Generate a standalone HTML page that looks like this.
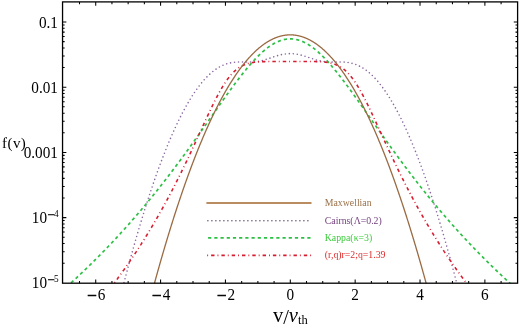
<!DOCTYPE html>
<html><head><meta charset="utf-8"><style>
html,body{margin:0;padding:0;background:#fff;}
body{width:520px;height:327px;overflow:hidden;}
svg{display:block;}
text{font-family:"Liberation Serif","DejaVu Serif",serif;}
</style></head><body>
<svg width="520" height="327" viewBox="0 0 520 327">
<defs><clipPath id="c"><rect x="62.55" y="1.90" width="455.05" height="281.30"/></clipPath></defs>

<g clip-path="url(#c)" fill="none" stroke-width="1.50">
<path d="M122.36,289.02 L122.69,287.76 L123.01,286.50 L123.34,285.24 L123.66,283.99 L123.99,282.74 L124.31,281.49 L124.63,280.24 L124.96,279.00 L125.28,277.76 L125.61,276.53 L125.93,275.30 L126.26,274.07 L126.58,272.85 L126.91,271.63 L127.23,270.41 L127.56,269.19 L127.88,267.98 L128.20,266.77 L128.53,265.57 L128.85,264.37 L129.18,263.17 L129.50,261.98 L129.83,260.78 L130.15,259.60 L130.48,258.41 L130.80,257.23 L131.12,256.05 L131.45,254.88 L131.77,253.71 L132.10,252.54 L132.42,251.37 L132.75,250.21 L133.07,249.05 L133.40,247.90 L133.72,246.75 L134.05,245.60 L134.37,244.45 L134.69,243.31 L135.02,242.17 L135.34,241.04 L135.67,239.91 L135.99,238.78 L136.32,237.65 L136.64,236.53 L136.97,235.41 L137.29,234.30 L137.62,233.19 L137.94,232.08 L138.26,230.98 L138.59,229.87 L138.91,228.78 L139.24,227.68 L139.56,226.59 L139.89,225.50 L140.21,224.42 L140.54,223.34 L140.86,222.26 L141.18,221.19 L141.51,220.11 L141.83,219.05 L142.16,217.98 L142.48,216.92 L142.81,215.86 L143.13,214.81 L143.46,213.76 L143.78,212.71 L144.11,211.67 L144.43,210.63 L144.75,209.59 L145.08,208.56 L145.40,207.53 L145.73,206.50 L146.05,205.48 L146.38,204.46 L146.70,203.44 L147.03,202.43 L147.35,201.42 L147.68,200.41 L148.00,199.41 L148.32,198.41 L148.65,197.41 L148.97,196.42 L149.30,195.43 L149.62,194.45 L149.95,193.46 L150.27,192.48 L150.60,191.51 L150.92,190.54 L151.24,189.57 L151.57,188.60 L151.89,187.64 L152.22,186.68 L152.54,185.73 L152.87,184.78 L153.19,183.83 L153.52,182.88 L153.84,181.94 L154.17,181.01 L154.49,180.07 L154.81,179.14 L155.14,178.22 L155.46,177.29 L155.79,176.37 L156.11,175.46 L156.44,174.54 L156.76,173.63 L157.09,172.73 L157.41,171.82 L157.74,170.92 L158.06,170.03 L158.38,169.14 L158.71,168.25 L159.03,167.36 L159.36,166.48 L159.68,165.60 L160.01,164.73 L160.33,163.86 L160.66,162.99 L160.98,162.13 L161.30,161.27 L161.63,160.41 L161.95,159.56 L162.28,158.71 L162.60,157.86 L162.93,157.02 L163.25,156.18 L163.58,155.34 L163.90,154.51 L164.23,153.68 L164.55,152.86 L164.87,152.03 L165.20,151.22 L165.52,150.40 L165.85,149.59 L166.17,148.78 L166.50,147.98 L166.82,147.18 L167.15,146.38 L167.47,145.59 L167.80,144.80 L168.12,144.02 L168.44,143.23 L168.77,142.46 L169.09,141.68 L169.42,140.91 L169.74,140.14 L170.07,139.38 L170.39,138.62 L170.72,137.86 L171.04,137.11 L171.36,136.36 L171.69,135.61 L172.01,134.87 L172.34,134.13 L172.66,133.40 L172.99,132.66 L173.31,131.94 L173.64,131.21 L173.96,130.49 L174.29,129.77 L174.61,129.06 L174.93,128.35 L175.26,127.65 L175.58,126.94 L175.91,126.24 L176.23,125.55 L176.56,124.86 L176.88,124.17 L177.21,123.49 L177.53,122.81 L177.86,122.13 L178.18,121.46 L178.50,120.79 L178.83,120.12 L179.15,119.46 L179.48,118.80 L179.80,118.15 L180.13,117.50 L180.45,116.85 L180.78,116.21 L181.10,115.57 L181.42,114.93 L181.75,114.30 L182.07,113.67 L182.40,113.05 L182.72,112.43 L183.05,111.81 L183.37,111.20 L183.70,110.59 L184.02,109.98 L184.35,109.38 L184.67,108.78 L184.99,108.19 L185.32,107.59 L185.64,107.01 L185.97,106.42 L186.29,105.84 L186.62,105.27 L186.94,104.70 L187.27,104.13 L187.59,103.56 L187.92,103.00 L188.24,102.45 L188.56,101.89 L188.89,101.35 L189.21,100.80 L189.54,100.26 L189.86,99.72 L190.19,99.19 L190.51,98.66 L190.84,98.13 L191.16,97.61 L191.48,97.09 L191.81,96.58 L192.13,96.06 L192.46,95.56 L192.78,95.05 L193.11,94.55 L193.43,94.06 L193.76,93.57 L194.08,93.08 L194.41,92.60 L194.73,92.12 L195.05,91.64 L195.38,91.17 L195.70,90.70 L196.03,90.23 L196.35,89.77 L196.68,89.32 L197.00,88.86 L197.33,88.42 L197.65,87.97 L197.98,87.53 L198.30,87.09 L198.62,86.66 L198.95,86.23 L199.27,85.80 L199.60,85.38 L199.92,84.96 L200.25,84.55 L200.57,84.14 L200.90,83.73 L201.22,83.33 L201.54,82.93 L201.87,82.54 L202.19,82.15 L202.52,81.76 L202.84,81.38 L203.17,81.00 L203.49,80.63 L203.82,80.26 L204.14,79.89 L204.47,79.53 L204.79,79.17 L205.11,78.81 L205.44,78.46 L205.76,78.11 L206.09,77.77 L206.41,77.43 L206.74,77.10 L207.06,76.77 L207.39,76.44 L207.71,76.11 L208.04,75.79 L208.36,75.48 L208.68,75.17 L209.01,74.86 L209.33,74.56 L209.66,74.26 L209.98,73.96 L210.31,73.67 L210.63,73.38 L210.96,73.10 L211.28,72.81 L211.60,72.54 L211.93,72.27 L212.25,72.00 L212.58,71.73 L212.90,71.47 L213.23,71.22 L213.55,70.96 L213.88,70.71 L214.20,70.47 L214.53,70.23 L214.85,69.99 L215.17,69.76 L215.50,69.53 L215.82,69.30 L216.15,69.08 L216.47,68.86 L216.80,68.64 L217.12,68.43 L217.45,68.23 L217.77,68.02 L218.10,67.83 L218.42,67.63 L218.74,67.44 L219.07,67.25 L219.39,67.07 L219.72,66.89 L220.04,66.71 L220.37,66.54 L220.69,66.37 L221.02,66.20 L221.34,66.04 L221.66,65.88 L221.99,65.73 L222.31,65.58 L222.64,65.43 L222.96,65.28 L223.29,65.14 L223.61,65.01 L223.94,64.87 L224.26,64.74 L224.59,64.62 L224.91,64.49 L225.23,64.37 L225.56,64.26 L225.88,64.15 L226.21,64.04 L226.53,63.93 L226.86,63.83 L227.18,63.73 L227.51,63.63 L227.83,63.54 L228.16,63.45 L228.48,63.36 L228.80,63.28 L229.13,63.20 L229.45,63.12 L229.78,63.05 L230.10,62.98 L230.43,62.91 L230.75,62.84 L231.08,62.78 L231.40,62.72 L231.72,62.66 L232.05,62.61 L232.37,62.56 L232.70,62.51 L233.02,62.46 L233.35,62.42 L233.67,62.37 L234.00,62.33 L234.32,62.30 L234.65,62.26 L234.97,62.23 L235.29,62.20 L235.62,62.17 L235.94,62.15 L236.27,62.12 L236.59,62.10 L236.92,62.08 L237.24,62.06 L237.57,62.05 L237.89,62.03 L238.22,62.02 L238.54,62.01 L238.86,62.00 L239.19,61.99 L239.51,61.98 L239.84,61.98 L240.16,61.97 L240.49,61.97 L240.81,61.97 L241.14,61.97 L241.46,61.97 L241.78,61.97 L242.11,61.97 L242.43,61.97 L242.76,61.97 L243.08,61.98 L243.41,61.98 L243.73,61.98 L244.06,61.99 L244.38,61.99 L244.71,62.00 L245.03,62.00 L245.35,62.00 L245.68,62.01 L246.00,62.01 L246.33,62.02 L246.65,62.02 L246.98,62.02 L247.30,62.03 L247.63,62.03 L247.95,62.03 L248.28,62.03 L248.60,62.03 L248.92,62.03 L249.25,62.02 L249.57,62.02 L249.90,62.01 L250.22,62.01 L250.55,62.00 L250.87,61.99 L251.20,61.98 L251.52,61.97 L251.84,61.96 L252.17,61.94 L252.49,61.93 L252.82,61.91 L253.14,61.89 L253.47,61.86 L253.79,61.84 L254.12,61.81 L254.44,61.79 L254.77,61.76 L255.09,61.73 L255.41,61.69 L255.74,61.65 L256.06,61.62 L256.39,61.58 L256.71,61.53 L257.04,61.49 L257.36,61.44 L257.69,61.39 L258.01,61.34 L258.34,61.29 L258.66,61.23 L258.98,61.17 L259.31,61.11 L259.63,61.05 L259.96,60.98 L260.28,60.92 L260.61,60.85 L260.93,60.78 L261.26,60.70 L261.58,60.63 L261.90,60.55 L262.23,60.47 L262.55,60.39 L262.88,60.31 L263.20,60.22 L263.53,60.13 L263.85,60.04 L264.18,59.95 L264.50,59.86 L264.83,59.77 L265.15,59.67 L265.47,59.58 L265.80,59.48 L266.12,59.38 L266.45,59.28 L266.77,59.18 L267.10,59.07 L267.42,58.97 L267.75,58.86 L268.07,58.76 L268.40,58.65 L268.72,58.55 L269.04,58.44 L269.37,58.33 L269.69,58.22 L270.02,58.11 L270.34,58.00 L270.67,57.89 L270.99,57.78 L271.32,57.67 L271.64,57.56 L271.96,57.45 L272.29,57.34 L272.61,57.23 L272.94,57.12 L273.26,57.01 L273.59,56.91 L273.91,56.80 L274.24,56.69 L274.56,56.59 L274.89,56.48 L275.21,56.38 L275.53,56.27 L275.86,56.17 L276.18,56.07 L276.51,55.97 L276.83,55.87 L277.16,55.77 L277.48,55.68 L277.81,55.58 L278.13,55.49 L278.46,55.40 L278.78,55.31 L279.10,55.22 L279.43,55.14 L279.75,55.05 L280.08,54.97 L280.40,54.89 L280.73,54.81 L281.05,54.74 L281.38,54.66 L281.70,54.59 L282.02,54.52 L282.35,54.46 L282.67,54.39 L283.00,54.33 L283.32,54.27 L283.65,54.21 L283.97,54.16 L284.30,54.10 L284.62,54.05 L284.95,54.01 L285.27,53.96 L285.59,53.92 L285.92,53.88 L286.24,53.84 L286.57,53.81 L286.89,53.78 L287.22,53.75 L287.54,53.73 L287.87,53.70 L288.19,53.68 L288.52,53.67 L288.84,53.65 L289.16,53.64 L289.49,53.63 L289.81,53.63 L290.14,53.62 L290.46,53.62 L290.79,53.63 L291.11,53.63 L291.44,53.64 L291.76,53.65 L292.08,53.67 L292.41,53.68 L292.73,53.70 L293.06,53.73 L293.38,53.75 L293.71,53.78 L294.03,53.81 L294.36,53.84 L294.68,53.88 L295.01,53.92 L295.33,53.96 L295.65,54.01 L295.98,54.05 L296.30,54.10 L296.63,54.16 L296.95,54.21 L297.28,54.27 L297.60,54.33 L297.93,54.39 L298.25,54.46 L298.58,54.52 L298.90,54.59 L299.22,54.66 L299.55,54.74 L299.87,54.81 L300.20,54.89 L300.52,54.97 L300.85,55.05 L301.17,55.14 L301.50,55.22 L301.82,55.31 L302.14,55.40 L302.47,55.49 L302.79,55.58 L303.12,55.68 L303.44,55.77 L303.77,55.87 L304.09,55.97 L304.42,56.07 L304.74,56.17 L305.07,56.27 L305.39,56.38 L305.71,56.48 L306.04,56.59 L306.36,56.69 L306.69,56.80 L307.01,56.91 L307.34,57.01 L307.66,57.12 L307.99,57.23 L308.31,57.34 L308.64,57.45 L308.96,57.56 L309.28,57.67 L309.61,57.78 L309.93,57.89 L310.26,58.00 L310.58,58.11 L310.91,58.22 L311.23,58.33 L311.56,58.44 L311.88,58.55 L312.20,58.65 L312.53,58.76 L312.85,58.86 L313.18,58.97 L313.50,59.07 L313.83,59.18 L314.15,59.28 L314.48,59.38 L314.80,59.48 L315.13,59.58 L315.45,59.67 L315.77,59.77 L316.10,59.86 L316.42,59.95 L316.75,60.04 L317.07,60.13 L317.40,60.22 L317.72,60.31 L318.05,60.39 L318.37,60.47 L318.70,60.55 L319.02,60.63 L319.34,60.70 L319.67,60.78 L319.99,60.85 L320.32,60.92 L320.64,60.98 L320.97,61.05 L321.29,61.11 L321.62,61.17 L321.94,61.23 L322.26,61.29 L322.59,61.34 L322.91,61.39 L323.24,61.44 L323.56,61.49 L323.89,61.53 L324.21,61.58 L324.54,61.62 L324.86,61.65 L325.19,61.69 L325.51,61.73 L325.83,61.76 L326.16,61.79 L326.48,61.81 L326.81,61.84 L327.13,61.86 L327.46,61.89 L327.78,61.91 L328.11,61.93 L328.43,61.94 L328.76,61.96 L329.08,61.97 L329.40,61.98 L329.73,61.99 L330.05,62.00 L330.38,62.01 L330.70,62.01 L331.03,62.02 L331.35,62.02 L331.68,62.03 L332.00,62.03 L332.32,62.03 L332.65,62.03 L332.97,62.03 L333.30,62.03 L333.62,62.02 L333.95,62.02 L334.27,62.02 L334.60,62.01 L334.92,62.01 L335.25,62.00 L335.57,62.00 L335.89,62.00 L336.22,61.99 L336.54,61.99 L336.87,61.98 L337.19,61.98 L337.52,61.98 L337.84,61.97 L338.17,61.97 L338.49,61.97 L338.82,61.97 L339.14,61.97 L339.46,61.97 L339.79,61.97 L340.11,61.97 L340.44,61.97 L340.76,61.98 L341.09,61.98 L341.41,61.99 L341.74,62.00 L342.06,62.01 L342.38,62.02 L342.71,62.03 L343.03,62.05 L343.36,62.06 L343.68,62.08 L344.01,62.10 L344.33,62.12 L344.66,62.15 L344.98,62.17 L345.31,62.20 L345.63,62.23 L345.95,62.26 L346.28,62.30 L346.60,62.33 L346.93,62.37 L347.25,62.42 L347.58,62.46 L347.90,62.51 L348.23,62.56 L348.55,62.61 L348.88,62.66 L349.20,62.72 L349.52,62.78 L349.85,62.84 L350.17,62.91 L350.50,62.98 L350.82,63.05 L351.15,63.12 L351.47,63.20 L351.80,63.28 L352.12,63.36 L352.44,63.45 L352.77,63.54 L353.09,63.63 L353.42,63.73 L353.74,63.83 L354.07,63.93 L354.39,64.04 L354.72,64.15 L355.04,64.26 L355.37,64.37 L355.69,64.49 L356.01,64.62 L356.34,64.74 L356.66,64.87 L356.99,65.01 L357.31,65.14 L357.64,65.28 L357.96,65.43 L358.29,65.58 L358.61,65.73 L358.94,65.88 L359.26,66.04 L359.58,66.20 L359.91,66.37 L360.23,66.54 L360.56,66.71 L360.88,66.89 L361.21,67.07 L361.53,67.25 L361.86,67.44 L362.18,67.63 L362.50,67.83 L362.83,68.02 L363.15,68.23 L363.48,68.43 L363.80,68.64 L364.13,68.86 L364.45,69.08 L364.78,69.30 L365.10,69.53 L365.43,69.76 L365.75,69.99 L366.07,70.23 L366.40,70.47 L366.72,70.71 L367.05,70.96 L367.37,71.22 L367.70,71.47 L368.02,71.73 L368.35,72.00 L368.67,72.27 L369.00,72.54 L369.32,72.81 L369.64,73.10 L369.97,73.38 L370.29,73.67 L370.62,73.96 L370.94,74.26 L371.27,74.56 L371.59,74.86 L371.92,75.17 L372.24,75.48 L372.56,75.79 L372.89,76.11 L373.21,76.44 L373.54,76.77 L373.86,77.10 L374.19,77.43 L374.51,77.77 L374.84,78.11 L375.16,78.46 L375.49,78.81 L375.81,79.17 L376.13,79.53 L376.46,79.89 L376.78,80.26 L377.11,80.63 L377.43,81.00 L377.76,81.38 L378.08,81.76 L378.41,82.15 L378.73,82.54 L379.06,82.93 L379.38,83.33 L379.70,83.73 L380.03,84.14 L380.35,84.55 L380.68,84.96 L381.00,85.38 L381.33,85.80 L381.65,86.23 L381.98,86.66 L382.30,87.09 L382.62,87.53 L382.95,87.97 L383.27,88.42 L383.60,88.86 L383.92,89.32 L384.25,89.77 L384.57,90.23 L384.90,90.70 L385.22,91.17 L385.55,91.64 L385.87,92.12 L386.19,92.60 L386.52,93.08 L386.84,93.57 L387.17,94.06 L387.49,94.55 L387.82,95.05 L388.14,95.56 L388.47,96.06 L388.79,96.58 L389.12,97.09 L389.44,97.61 L389.76,98.13 L390.09,98.66 L390.41,99.19 L390.74,99.72 L391.06,100.26 L391.39,100.80 L391.71,101.35 L392.04,101.89 L392.36,102.45 L392.68,103.00 L393.01,103.56 L393.33,104.13 L393.66,104.70 L393.98,105.27 L394.31,105.84 L394.63,106.42 L394.96,107.01 L395.28,107.59 L395.61,108.19 L395.93,108.78 L396.25,109.38 L396.58,109.98 L396.90,110.59 L397.23,111.20 L397.55,111.81 L397.88,112.43 L398.20,113.05 L398.53,113.67 L398.85,114.30 L399.18,114.93 L399.50,115.57 L399.82,116.21 L400.15,116.85 L400.47,117.50 L400.80,118.15 L401.12,118.80 L401.45,119.46 L401.77,120.12 L402.10,120.79 L402.42,121.46 L402.74,122.13 L403.07,122.81 L403.39,123.49 L403.72,124.17 L404.04,124.86 L404.37,125.55 L404.69,126.24 L405.02,126.94 L405.34,127.65 L405.67,128.35 L405.99,129.06 L406.31,129.77 L406.64,130.49 L406.96,131.21 L407.29,131.94 L407.61,132.66 L407.94,133.40 L408.26,134.13 L408.59,134.87 L408.91,135.61 L409.24,136.36 L409.56,137.11 L409.88,137.86 L410.21,138.62 L410.53,139.38 L410.86,140.14 L411.18,140.91 L411.51,141.68 L411.83,142.46 L412.16,143.23 L412.48,144.02 L412.80,144.80 L413.13,145.59 L413.45,146.38 L413.78,147.18 L414.10,147.98 L414.43,148.78 L414.75,149.59 L415.08,150.40 L415.40,151.22 L415.73,152.03 L416.05,152.86 L416.37,153.68 L416.70,154.51 L417.02,155.34 L417.35,156.18 L417.67,157.02 L418.00,157.86 L418.32,158.71 L418.65,159.56 L418.97,160.41 L419.30,161.27 L419.62,162.13 L419.94,162.99 L420.27,163.86 L420.59,164.73 L420.92,165.60 L421.24,166.48 L421.57,167.36 L421.89,168.25 L422.22,169.14 L422.54,170.03 L422.86,170.92 L423.19,171.82 L423.51,172.73 L423.84,173.63 L424.16,174.54 L424.49,175.46 L424.81,176.37 L425.14,177.29 L425.46,178.22 L425.79,179.14 L426.11,180.07 L426.43,181.01 L426.76,181.94 L427.08,182.88 L427.41,183.83 L427.73,184.78 L428.06,185.73 L428.38,186.68 L428.71,187.64 L429.03,188.60 L429.36,189.57 L429.68,190.54 L430.00,191.51 L430.33,192.48 L430.65,193.46 L430.98,194.45 L431.30,195.43 L431.63,196.42 L431.95,197.41 L432.28,198.41 L432.60,199.41 L432.92,200.41 L433.25,201.42 L433.57,202.43 L433.90,203.44 L434.22,204.46 L434.55,205.48 L434.87,206.50 L435.20,207.53 L435.52,208.56 L435.85,209.59 L436.17,210.63 L436.49,211.67 L436.82,212.71 L437.14,213.76 L437.47,214.81 L437.79,215.86 L438.12,216.92 L438.44,217.98 L438.77,219.05 L439.09,220.11 L439.42,221.19 L439.74,222.26 L440.06,223.34 L440.39,224.42 L440.71,225.50 L441.04,226.59 L441.36,227.68 L441.69,228.78 L442.01,229.87 L442.34,230.98 L442.66,232.08 L442.98,233.19 L443.31,234.30 L443.63,235.41 L443.96,236.53 L444.28,237.65 L444.61,238.78 L444.93,239.91 L445.26,241.04 L445.58,242.17 L445.91,243.31 L446.23,244.45 L446.55,245.60 L446.88,246.75 L447.20,247.90 L447.53,249.05 L447.85,250.21 L448.18,251.37 L448.50,252.54 L448.83,253.71 L449.15,254.88 L449.48,256.05 L449.80,257.23 L450.12,258.41 L450.45,259.60 L450.77,260.78 L451.10,261.98 L451.42,263.17 L451.75,264.37 L452.07,265.57 L452.40,266.77 L452.72,267.98 L453.04,269.19 L453.37,270.41 L453.69,271.63 L454.02,272.85 L454.34,274.07 L454.67,275.30 L454.99,276.53 L455.32,277.76 L455.64,279.00 L455.97,280.24 L456.29,281.49 L456.61,282.74 L456.94,283.99 L457.26,285.24 L457.59,286.50 L457.91,287.76 L458.24,289.02" stroke="#8a67a0" stroke-width="1.6" stroke-dasharray="0 3.992" stroke-dashoffset="-2.57" stroke-linecap="round"/>
<path d="M64.27,288.95 L64.60,288.66 L64.92,288.37 L65.25,288.08 L65.57,287.78 L65.90,287.49 L66.22,287.20 L66.55,286.91 L66.87,286.62 L67.20,286.33 L67.52,286.03 L67.84,285.74 L68.17,285.45 L68.49,285.15 L68.82,284.86 L69.14,284.57 L69.47,284.27 L69.79,283.98 L70.12,283.68 L70.44,283.39 L70.76,283.09 L71.09,282.79 L71.41,282.50 L71.74,282.20 L72.06,281.90 L72.39,281.61 L72.71,281.31 L73.04,281.01 L73.36,280.71 L73.69,280.41 L74.01,280.11 L74.33,279.81 L74.66,279.51 L74.98,279.21 L75.31,278.91 L75.63,278.61 L75.96,278.31 L76.28,278.01 L76.61,277.71 L76.93,277.40 L77.26,277.10 L77.58,276.80 L77.90,276.49 L78.23,276.19 L78.55,275.89 L78.88,275.58 L79.20,275.28 L79.53,274.97 L79.85,274.67 L80.18,274.36 L80.50,274.05 L80.82,273.75 L81.15,273.44 L81.47,273.13 L81.80,272.82 L82.12,272.52 L82.45,272.21 L82.77,271.90 L83.10,271.59 L83.42,271.28 L83.75,270.97 L84.07,270.66 L84.39,270.35 L84.72,270.04 L85.04,269.73 L85.37,269.42 L85.69,269.10 L86.02,268.79 L86.34,268.48 L86.67,268.17 L86.99,267.85 L87.32,267.54 L87.64,267.22 L87.96,266.91 L88.29,266.59 L88.61,266.28 L88.94,265.96 L89.26,265.65 L89.59,265.33 L89.91,265.01 L90.24,264.70 L90.56,264.38 L90.88,264.06 L91.21,263.74 L91.53,263.42 L91.86,263.10 L92.18,262.79 L92.51,262.47 L92.83,262.15 L93.16,261.82 L93.48,261.50 L93.81,261.18 L94.13,260.86 L94.45,260.54 L94.78,260.22 L95.10,259.89 L95.43,259.57 L95.75,259.25 L96.08,258.92 L96.40,258.60 L96.73,258.27 L97.05,257.95 L97.38,257.62 L97.70,257.30 L98.02,256.97 L98.35,256.64 L98.67,256.32 L99.00,255.99 L99.32,255.66 L99.65,255.33 L99.97,255.00 L100.30,254.67 L100.62,254.34 L100.94,254.01 L101.27,253.68 L101.59,253.35 L101.92,253.02 L102.24,252.69 L102.57,252.36 L102.89,252.03 L103.22,251.69 L103.54,251.36 L103.87,251.03 L104.19,250.69 L104.51,250.36 L104.84,250.02 L105.16,249.69 L105.49,249.35 L105.81,249.02 L106.14,248.68 L106.46,248.34 L106.79,248.01 L107.11,247.67 L107.44,247.33 L107.76,246.99 L108.08,246.65 L108.41,246.32 L108.73,245.98 L109.06,245.64 L109.38,245.30 L109.71,244.95 L110.03,244.61 L110.36,244.27 L110.68,243.93 L111.00,243.59 L111.33,243.24 L111.65,242.90 L111.98,242.56 L112.30,242.21 L112.63,241.87 L112.95,241.52 L113.28,241.18 L113.60,240.83 L113.93,240.49 L114.25,240.14 L114.57,239.79 L114.90,239.44 L115.22,239.10 L115.55,238.75 L115.87,238.40 L116.20,238.05 L116.52,237.70 L116.85,237.35 L117.17,237.00 L117.50,236.65 L117.82,236.30 L118.14,235.94 L118.47,235.59 L118.79,235.24 L119.12,234.89 L119.44,234.53 L119.77,234.18 L120.09,233.82 L120.42,233.47 L120.74,233.11 L121.06,232.76 L121.39,232.40 L121.71,232.05 L122.04,231.69 L122.36,231.33 L122.69,230.97 L123.01,230.62 L123.34,230.26 L123.66,229.90 L123.99,229.54 L124.31,229.18 L124.63,228.82 L124.96,228.46 L125.28,228.09 L125.61,227.73 L125.93,227.37 L126.26,227.01 L126.58,226.64 L126.91,226.28 L127.23,225.92 L127.56,225.55 L127.88,225.19 L128.20,224.82 L128.53,224.46 L128.85,224.09 L129.18,223.72 L129.50,223.35 L129.83,222.99 L130.15,222.62 L130.48,222.25 L130.80,221.88 L131.12,221.51 L131.45,221.14 L131.77,220.77 L132.10,220.40 L132.42,220.03 L132.75,219.66 L133.07,219.29 L133.40,218.91 L133.72,218.54 L134.05,218.17 L134.37,217.79 L134.69,217.42 L135.02,217.04 L135.34,216.67 L135.67,216.29 L135.99,215.91 L136.32,215.54 L136.64,215.16 L136.97,214.78 L137.29,214.40 L137.62,214.03 L137.94,213.65 L138.26,213.27 L138.59,212.89 L138.91,212.51 L139.24,212.13 L139.56,211.74 L139.89,211.36 L140.21,210.98 L140.54,210.60 L140.86,210.21 L141.18,209.83 L141.51,209.45 L141.83,209.06 L142.16,208.68 L142.48,208.29 L142.81,207.90 L143.13,207.52 L143.46,207.13 L143.78,206.74 L144.11,206.35 L144.43,205.97 L144.75,205.58 L145.08,205.19 L145.40,204.80 L145.73,204.41 L146.05,204.02 L146.38,203.63 L146.70,203.23 L147.03,202.84 L147.35,202.45 L147.68,202.06 L148.00,201.66 L148.32,201.27 L148.65,200.87 L148.97,200.48 L149.30,200.08 L149.62,199.69 L149.95,199.29 L150.27,198.89 L150.60,198.50 L150.92,198.10 L151.24,197.70 L151.57,197.30 L151.89,196.90 L152.22,196.50 L152.54,196.10 L152.87,195.70 L153.19,195.30 L153.52,194.90 L153.84,194.50 L154.17,194.09 L154.49,193.69 L154.81,193.29 L155.14,192.88 L155.46,192.48 L155.79,192.07 L156.11,191.67 L156.44,191.26 L156.76,190.86 L157.09,190.45 L157.41,190.04 L157.74,189.63 L158.06,189.23 L158.38,188.82 L158.71,188.41 L159.03,188.00 L159.36,187.59 L159.68,187.18 L160.01,186.77 L160.33,186.35 L160.66,185.94 L160.98,185.53 L161.30,185.12 L161.63,184.70 L161.95,184.29 L162.28,183.88 L162.60,183.46 L162.93,183.05 L163.25,182.63 L163.58,182.21 L163.90,181.80 L164.23,181.38 L164.55,180.96 L164.87,180.54 L165.20,180.13 L165.52,179.71 L165.85,179.29 L166.17,178.87 L166.50,178.45 L166.82,178.03 L167.15,177.60 L167.47,177.18 L167.80,176.76 L168.12,176.34 L168.44,175.91 L168.77,175.49 L169.09,175.07 L169.42,174.64 L169.74,174.22 L170.07,173.79 L170.39,173.37 L170.72,172.94 L171.04,172.51 L171.36,172.09 L171.69,171.66 L172.01,171.23 L172.34,170.80 L172.66,170.37 L172.99,169.94 L173.31,169.51 L173.64,169.08 L173.96,168.65 L174.29,168.22 L174.61,167.79 L174.93,167.36 L175.26,166.93 L175.58,166.49 L175.91,166.06 L176.23,165.63 L176.56,165.19 L176.88,164.76 L177.21,164.32 L177.53,163.89 L177.86,163.45 L178.18,163.01 L178.50,162.58 L178.83,162.14 L179.15,161.70 L179.48,161.26 L179.80,160.83 L180.13,160.39 L180.45,159.95 L180.78,159.51 L181.10,159.07 L181.42,158.63 L181.75,158.19 L182.07,157.75 L182.40,157.30 L182.72,156.86 L183.05,156.42 L183.37,155.98 L183.70,155.53 L184.02,155.09 L184.35,154.65 L184.67,154.20 L184.99,153.76 L185.32,153.31 L185.64,152.87 L185.97,152.42 L186.29,151.97 L186.62,151.53 L186.94,151.08 L187.27,150.63 L187.59,150.19 L187.92,149.74 L188.24,149.29 L188.56,148.84 L188.89,148.39 L189.21,147.94 L189.54,147.49 L189.86,147.04 L190.19,146.59 L190.51,146.14 L190.84,145.69 L191.16,145.24 L191.48,144.79 L191.81,144.33 L192.13,143.88 L192.46,143.43 L192.78,142.98 L193.11,142.52 L193.43,142.07 L193.76,141.62 L194.08,141.16 L194.41,140.71 L194.73,140.25 L195.05,139.80 L195.38,139.34 L195.70,138.89 L196.03,138.43 L196.35,137.97 L196.68,137.52 L197.00,137.06 L197.33,136.60 L197.65,136.15 L197.98,135.69 L198.30,135.23 L198.62,134.77 L198.95,134.32 L199.27,133.86 L199.60,133.40 L199.92,132.94 L200.25,132.48 L200.57,132.02 L200.90,131.56 L201.22,131.10 L201.54,130.64 L201.87,130.18 L202.19,129.72 L202.52,129.26 L202.84,128.80 L203.17,128.34 L203.49,127.88 L203.82,127.42 L204.14,126.96 L204.47,126.50 L204.79,126.04 L205.11,125.58 L205.44,125.11 L205.76,124.65 L206.09,124.19 L206.41,123.73 L206.74,123.27 L207.06,122.80 L207.39,122.34 L207.71,121.88 L208.04,121.42 L208.36,120.95 L208.68,120.49 L209.01,120.03 L209.33,119.57 L209.66,119.10 L209.98,118.64 L210.31,118.18 L210.63,117.72 L210.96,117.25 L211.28,116.79 L211.60,116.33 L211.93,115.87 L212.25,115.40 L212.58,114.94 L212.90,114.48 L213.23,114.01 L213.55,113.55 L213.88,113.09 L214.20,112.63 L214.53,112.17 L214.85,111.70 L215.17,111.24 L215.50,110.78 L215.82,110.32 L216.15,109.86 L216.47,109.39 L216.80,108.93 L217.12,108.47 L217.45,108.01 L217.77,107.55 L218.10,107.09 L218.42,106.63 L218.74,106.17 L219.07,105.71 L219.39,105.25 L219.72,104.79 L220.04,104.33 L220.37,103.87 L220.69,103.41 L221.02,102.95 L221.34,102.49 L221.66,102.04 L221.99,101.58 L222.31,101.12 L222.64,100.66 L222.96,100.21 L223.29,99.75 L223.61,99.30 L223.94,98.84 L224.26,98.39 L224.59,97.93 L224.91,97.48 L225.23,97.02 L225.56,96.57 L225.88,96.12 L226.21,95.66 L226.53,95.21 L226.86,94.76 L227.18,94.31 L227.51,93.86 L227.83,93.41 L228.16,92.96 L228.48,92.51 L228.80,92.06 L229.13,91.61 L229.45,91.17 L229.78,90.72 L230.10,90.28 L230.43,89.83 L230.75,89.39 L231.08,88.94 L231.40,88.50 L231.72,88.06 L232.05,87.61 L232.37,87.17 L232.70,86.73 L233.02,86.29 L233.35,85.86 L233.67,85.42 L234.00,84.98 L234.32,84.54 L234.65,84.11 L234.97,83.67 L235.29,83.24 L235.62,82.81 L235.94,82.38 L236.27,81.95 L236.59,81.52 L236.92,81.09 L237.24,80.66 L237.57,80.23 L237.89,79.81 L238.22,79.38 L238.54,78.96 L238.86,78.53 L239.19,78.11 L239.51,77.69 L239.84,77.27 L240.16,76.86 L240.49,76.44 L240.81,76.02 L241.14,75.61 L241.46,75.19 L241.78,74.78 L242.11,74.37 L242.43,73.96 L242.76,73.55 L243.08,73.15 L243.41,72.74 L243.73,72.33 L244.06,71.93 L244.38,71.53 L244.71,71.13 L245.03,70.73 L245.35,70.33 L245.68,69.94 L246.00,69.54 L246.33,69.15 L246.65,68.76 L246.98,68.37 L247.30,67.98 L247.63,67.59 L247.95,67.21 L248.28,66.83 L248.60,66.44 L248.92,66.06 L249.25,65.69 L249.57,65.31 L249.90,64.94 L250.22,64.56 L250.55,64.19 L250.87,63.82 L251.20,63.45 L251.52,63.09 L251.84,62.72 L252.17,62.36 L252.49,62.00 L252.82,61.64 L253.14,61.29 L253.47,60.93 L253.79,60.58 L254.12,60.23 L254.44,59.88 L254.77,59.54 L255.09,59.19 L255.41,58.85 L255.74,58.51 L256.06,58.17 L256.39,57.84 L256.71,57.51 L257.04,57.18 L257.36,56.85 L257.69,56.52 L258.01,56.20 L258.34,55.87 L258.66,55.56 L258.98,55.24 L259.31,54.92 L259.63,54.61 L259.96,54.30 L260.28,54.00 L260.61,53.69 L260.93,53.39 L261.26,53.09 L261.58,52.79 L261.90,52.50 L262.23,52.20 L262.55,51.92 L262.88,51.63 L263.20,51.34 L263.53,51.06 L263.85,50.78 L264.18,50.51 L264.50,50.23 L264.83,49.96 L265.15,49.70 L265.47,49.43 L265.80,49.17 L266.12,48.91 L266.45,48.65 L266.77,48.40 L267.10,48.15 L267.42,47.90 L267.75,47.66 L268.07,47.42 L268.40,47.18 L268.72,46.94 L269.04,46.71 L269.37,46.48 L269.69,46.25 L270.02,46.03 L270.34,45.81 L270.67,45.59 L270.99,45.38 L271.32,45.17 L271.64,44.96 L271.96,44.76 L272.29,44.55 L272.61,44.36 L272.94,44.16 L273.26,43.97 L273.59,43.78 L273.91,43.60 L274.24,43.42 L274.56,43.24 L274.89,43.06 L275.21,42.89 L275.53,42.72 L275.86,42.56 L276.18,42.40 L276.51,42.24 L276.83,42.09 L277.16,41.94 L277.48,41.79 L277.81,41.64 L278.13,41.50 L278.46,41.37 L278.78,41.23 L279.10,41.10 L279.43,40.98 L279.75,40.86 L280.08,40.74 L280.40,40.62 L280.73,40.51 L281.05,40.40 L281.38,40.30 L281.70,40.20 L282.02,40.10 L282.35,40.01 L282.67,39.92 L283.00,39.83 L283.32,39.75 L283.65,39.67 L283.97,39.59 L284.30,39.52 L284.62,39.45 L284.95,39.39 L285.27,39.33 L285.59,39.27 L285.92,39.22 L286.24,39.17 L286.57,39.13 L286.89,39.09 L287.22,39.05 L287.54,39.01 L287.87,38.98 L288.19,38.96 L288.52,38.93 L288.84,38.92 L289.16,38.90 L289.49,38.89 L289.81,38.88 L290.14,38.88 L290.46,38.88 L290.79,38.88 L291.11,38.89 L291.44,38.90 L291.76,38.92 L292.08,38.93 L292.41,38.96 L292.73,38.98 L293.06,39.01 L293.38,39.05 L293.71,39.09 L294.03,39.13 L294.36,39.17 L294.68,39.22 L295.01,39.27 L295.33,39.33 L295.65,39.39 L295.98,39.45 L296.30,39.52 L296.63,39.59 L296.95,39.67 L297.28,39.75 L297.60,39.83 L297.93,39.92 L298.25,40.01 L298.58,40.10 L298.90,40.20 L299.22,40.30 L299.55,40.40 L299.87,40.51 L300.20,40.62 L300.52,40.74 L300.85,40.86 L301.17,40.98 L301.50,41.10 L301.82,41.23 L302.14,41.37 L302.47,41.50 L302.79,41.64 L303.12,41.79 L303.44,41.94 L303.77,42.09 L304.09,42.24 L304.42,42.40 L304.74,42.56 L305.07,42.72 L305.39,42.89 L305.71,43.06 L306.04,43.24 L306.36,43.42 L306.69,43.60 L307.01,43.78 L307.34,43.97 L307.66,44.16 L307.99,44.36 L308.31,44.55 L308.64,44.76 L308.96,44.96 L309.28,45.17 L309.61,45.38 L309.93,45.59 L310.26,45.81 L310.58,46.03 L310.91,46.25 L311.23,46.48 L311.56,46.71 L311.88,46.94 L312.20,47.18 L312.53,47.42 L312.85,47.66 L313.18,47.90 L313.50,48.15 L313.83,48.40 L314.15,48.65 L314.48,48.91 L314.80,49.17 L315.13,49.43 L315.45,49.70 L315.77,49.96 L316.10,50.23 L316.42,50.51 L316.75,50.78 L317.07,51.06 L317.40,51.34 L317.72,51.63 L318.05,51.92 L318.37,52.20 L318.70,52.50 L319.02,52.79 L319.34,53.09 L319.67,53.39 L319.99,53.69 L320.32,54.00 L320.64,54.30 L320.97,54.61 L321.29,54.92 L321.62,55.24 L321.94,55.56 L322.26,55.87 L322.59,56.20 L322.91,56.52 L323.24,56.85 L323.56,57.18 L323.89,57.51 L324.21,57.84 L324.54,58.17 L324.86,58.51 L325.19,58.85 L325.51,59.19 L325.83,59.54 L326.16,59.88 L326.48,60.23 L326.81,60.58 L327.13,60.93 L327.46,61.29 L327.78,61.64 L328.11,62.00 L328.43,62.36 L328.76,62.72 L329.08,63.09 L329.40,63.45 L329.73,63.82 L330.05,64.19 L330.38,64.56 L330.70,64.94 L331.03,65.31 L331.35,65.69 L331.68,66.06 L332.00,66.44 L332.32,66.83 L332.65,67.21 L332.97,67.59 L333.30,67.98 L333.62,68.37 L333.95,68.76 L334.27,69.15 L334.60,69.54 L334.92,69.94 L335.25,70.33 L335.57,70.73 L335.89,71.13 L336.22,71.53 L336.54,71.93 L336.87,72.33 L337.19,72.74 L337.52,73.15 L337.84,73.55 L338.17,73.96 L338.49,74.37 L338.82,74.78 L339.14,75.19 L339.46,75.61 L339.79,76.02 L340.11,76.44 L340.44,76.86 L340.76,77.27 L341.09,77.69 L341.41,78.11 L341.74,78.53 L342.06,78.96 L342.38,79.38 L342.71,79.81 L343.03,80.23 L343.36,80.66 L343.68,81.09 L344.01,81.52 L344.33,81.95 L344.66,82.38 L344.98,82.81 L345.31,83.24 L345.63,83.67 L345.95,84.11 L346.28,84.54 L346.60,84.98 L346.93,85.42 L347.25,85.86 L347.58,86.29 L347.90,86.73 L348.23,87.17 L348.55,87.61 L348.88,88.06 L349.20,88.50 L349.52,88.94 L349.85,89.39 L350.17,89.83 L350.50,90.28 L350.82,90.72 L351.15,91.17 L351.47,91.61 L351.80,92.06 L352.12,92.51 L352.44,92.96 L352.77,93.41 L353.09,93.86 L353.42,94.31 L353.74,94.76 L354.07,95.21 L354.39,95.66 L354.72,96.12 L355.04,96.57 L355.37,97.02 L355.69,97.48 L356.01,97.93 L356.34,98.39 L356.66,98.84 L356.99,99.30 L357.31,99.75 L357.64,100.21 L357.96,100.66 L358.29,101.12 L358.61,101.58 L358.94,102.04 L359.26,102.49 L359.58,102.95 L359.91,103.41 L360.23,103.87 L360.56,104.33 L360.88,104.79 L361.21,105.25 L361.53,105.71 L361.86,106.17 L362.18,106.63 L362.50,107.09 L362.83,107.55 L363.15,108.01 L363.48,108.47 L363.80,108.93 L364.13,109.39 L364.45,109.86 L364.78,110.32 L365.10,110.78 L365.43,111.24 L365.75,111.70 L366.07,112.17 L366.40,112.63 L366.72,113.09 L367.05,113.55 L367.37,114.01 L367.70,114.48 L368.02,114.94 L368.35,115.40 L368.67,115.87 L369.00,116.33 L369.32,116.79 L369.64,117.25 L369.97,117.72 L370.29,118.18 L370.62,118.64 L370.94,119.10 L371.27,119.57 L371.59,120.03 L371.92,120.49 L372.24,120.95 L372.56,121.42 L372.89,121.88 L373.21,122.34 L373.54,122.80 L373.86,123.27 L374.19,123.73 L374.51,124.19 L374.84,124.65 L375.16,125.11 L375.49,125.58 L375.81,126.04 L376.13,126.50 L376.46,126.96 L376.78,127.42 L377.11,127.88 L377.43,128.34 L377.76,128.80 L378.08,129.26 L378.41,129.72 L378.73,130.18 L379.06,130.64 L379.38,131.10 L379.70,131.56 L380.03,132.02 L380.35,132.48 L380.68,132.94 L381.00,133.40 L381.33,133.86 L381.65,134.32 L381.98,134.77 L382.30,135.23 L382.62,135.69 L382.95,136.15 L383.27,136.60 L383.60,137.06 L383.92,137.52 L384.25,137.97 L384.57,138.43 L384.90,138.89 L385.22,139.34 L385.55,139.80 L385.87,140.25 L386.19,140.71 L386.52,141.16 L386.84,141.62 L387.17,142.07 L387.49,142.52 L387.82,142.98 L388.14,143.43 L388.47,143.88 L388.79,144.33 L389.12,144.79 L389.44,145.24 L389.76,145.69 L390.09,146.14 L390.41,146.59 L390.74,147.04 L391.06,147.49 L391.39,147.94 L391.71,148.39 L392.04,148.84 L392.36,149.29 L392.68,149.74 L393.01,150.19 L393.33,150.63 L393.66,151.08 L393.98,151.53 L394.31,151.97 L394.63,152.42 L394.96,152.87 L395.28,153.31 L395.61,153.76 L395.93,154.20 L396.25,154.65 L396.58,155.09 L396.90,155.53 L397.23,155.98 L397.55,156.42 L397.88,156.86 L398.20,157.30 L398.53,157.75 L398.85,158.19 L399.18,158.63 L399.50,159.07 L399.82,159.51 L400.15,159.95 L400.47,160.39 L400.80,160.83 L401.12,161.26 L401.45,161.70 L401.77,162.14 L402.10,162.58 L402.42,163.01 L402.74,163.45 L403.07,163.89 L403.39,164.32 L403.72,164.76 L404.04,165.19 L404.37,165.63 L404.69,166.06 L405.02,166.49 L405.34,166.93 L405.67,167.36 L405.99,167.79 L406.31,168.22 L406.64,168.65 L406.96,169.08 L407.29,169.51 L407.61,169.94 L407.94,170.37 L408.26,170.80 L408.59,171.23 L408.91,171.66 L409.24,172.09 L409.56,172.51 L409.88,172.94 L410.21,173.37 L410.53,173.79 L410.86,174.22 L411.18,174.64 L411.51,175.07 L411.83,175.49 L412.16,175.91 L412.48,176.34 L412.80,176.76 L413.13,177.18 L413.45,177.60 L413.78,178.03 L414.10,178.45 L414.43,178.87 L414.75,179.29 L415.08,179.71 L415.40,180.13 L415.73,180.54 L416.05,180.96 L416.37,181.38 L416.70,181.80 L417.02,182.21 L417.35,182.63 L417.67,183.05 L418.00,183.46 L418.32,183.88 L418.65,184.29 L418.97,184.70 L419.30,185.12 L419.62,185.53 L419.94,185.94 L420.27,186.35 L420.59,186.77 L420.92,187.18 L421.24,187.59 L421.57,188.00 L421.89,188.41 L422.22,188.82 L422.54,189.23 L422.86,189.63 L423.19,190.04 L423.51,190.45 L423.84,190.86 L424.16,191.26 L424.49,191.67 L424.81,192.07 L425.14,192.48 L425.46,192.88 L425.79,193.29 L426.11,193.69 L426.43,194.09 L426.76,194.50 L427.08,194.90 L427.41,195.30 L427.73,195.70 L428.06,196.10 L428.38,196.50 L428.71,196.90 L429.03,197.30 L429.36,197.70 L429.68,198.10 L430.00,198.50 L430.33,198.89 L430.65,199.29 L430.98,199.69 L431.30,200.08 L431.63,200.48 L431.95,200.87 L432.28,201.27 L432.60,201.66 L432.92,202.06 L433.25,202.45 L433.57,202.84 L433.90,203.23 L434.22,203.63 L434.55,204.02 L434.87,204.41 L435.20,204.80 L435.52,205.19 L435.85,205.58 L436.17,205.97 L436.49,206.35 L436.82,206.74 L437.14,207.13 L437.47,207.52 L437.79,207.90 L438.12,208.29 L438.44,208.68 L438.77,209.06 L439.09,209.45 L439.42,209.83 L439.74,210.21 L440.06,210.60 L440.39,210.98 L440.71,211.36 L441.04,211.74 L441.36,212.13 L441.69,212.51 L442.01,212.89 L442.34,213.27 L442.66,213.65 L442.98,214.03 L443.31,214.40 L443.63,214.78 L443.96,215.16 L444.28,215.54 L444.61,215.91 L444.93,216.29 L445.26,216.67 L445.58,217.04 L445.91,217.42 L446.23,217.79 L446.55,218.17 L446.88,218.54 L447.20,218.91 L447.53,219.29 L447.85,219.66 L448.18,220.03 L448.50,220.40 L448.83,220.77 L449.15,221.14 L449.48,221.51 L449.80,221.88 L450.12,222.25 L450.45,222.62 L450.77,222.99 L451.10,223.35 L451.42,223.72 L451.75,224.09 L452.07,224.46 L452.40,224.82 L452.72,225.19 L453.04,225.55 L453.37,225.92 L453.69,226.28 L454.02,226.64 L454.34,227.01 L454.67,227.37 L454.99,227.73 L455.32,228.09 L455.64,228.46 L455.97,228.82 L456.29,229.18 L456.61,229.54 L456.94,229.90 L457.26,230.26 L457.59,230.62 L457.91,230.97 L458.24,231.33 L458.56,231.69 L458.89,232.05 L459.21,232.40 L459.54,232.76 L459.86,233.11 L460.18,233.47 L460.51,233.82 L460.83,234.18 L461.16,234.53 L461.48,234.89 L461.81,235.24 L462.13,235.59 L462.46,235.94 L462.78,236.30 L463.10,236.65 L463.43,237.00 L463.75,237.35 L464.08,237.70 L464.40,238.05 L464.73,238.40 L465.05,238.75 L465.38,239.10 L465.70,239.44 L466.03,239.79 L466.35,240.14 L466.67,240.49 L467.00,240.83 L467.32,241.18 L467.65,241.52 L467.97,241.87 L468.30,242.21 L468.62,242.56 L468.95,242.90 L469.27,243.24 L469.60,243.59 L469.92,243.93 L470.24,244.27 L470.57,244.61 L470.89,244.95 L471.22,245.30 L471.54,245.64 L471.87,245.98 L472.19,246.32 L472.52,246.65 L472.84,246.99 L473.16,247.33 L473.49,247.67 L473.81,248.01 L474.14,248.34 L474.46,248.68 L474.79,249.02 L475.11,249.35 L475.44,249.69 L475.76,250.02 L476.09,250.36 L476.41,250.69 L476.73,251.03 L477.06,251.36 L477.38,251.69 L477.71,252.03 L478.03,252.36 L478.36,252.69 L478.68,253.02 L479.01,253.35 L479.33,253.68 L479.66,254.01 L479.98,254.34 L480.30,254.67 L480.63,255.00 L480.95,255.33 L481.28,255.66 L481.60,255.99 L481.93,256.32 L482.25,256.64 L482.58,256.97 L482.90,257.30 L483.22,257.62 L483.55,257.95 L483.87,258.27 L484.20,258.60 L484.52,258.92 L484.85,259.25 L485.17,259.57 L485.50,259.89 L485.82,260.22 L486.15,260.54 L486.47,260.86 L486.79,261.18 L487.12,261.50 L487.44,261.82 L487.77,262.15 L488.09,262.47 L488.42,262.79 L488.74,263.10 L489.07,263.42 L489.39,263.74 L489.72,264.06 L490.04,264.38 L490.36,264.70 L490.69,265.01 L491.01,265.33 L491.34,265.65 L491.66,265.96 L491.99,266.28 L492.31,266.59 L492.64,266.91 L492.96,267.22 L493.28,267.54 L493.61,267.85 L493.93,268.17 L494.26,268.48 L494.58,268.79 L494.91,269.10 L495.23,269.42 L495.56,269.73 L495.88,270.04 L496.21,270.35 L496.53,270.66 L496.85,270.97 L497.18,271.28 L497.50,271.59 L497.83,271.90 L498.15,272.21 L498.48,272.52 L498.80,272.82 L499.13,273.13 L499.45,273.44 L499.78,273.75 L500.10,274.05 L500.42,274.36 L500.75,274.67 L501.07,274.97 L501.40,275.28 L501.72,275.58 L502.05,275.89 L502.37,276.19 L502.70,276.49 L503.02,276.80 L503.34,277.10 L503.67,277.40 L503.99,277.71 L504.32,278.01 L504.64,278.31 L504.97,278.61 L505.29,278.91 L505.62,279.21 L505.94,279.51 L506.27,279.81 L506.59,280.11 L506.91,280.41 L507.24,280.71 L507.56,281.01 L507.89,281.31 L508.21,281.61 L508.54,281.90 L508.86,282.20 L509.19,282.50 L509.51,282.79 L509.84,283.09 L510.16,283.39 L510.48,283.68 L510.81,283.98 L511.13,284.27 L511.46,284.57 L511.78,284.86 L512.11,285.15 L512.43,285.45 L512.76,285.74 L513.08,286.03 L513.40,286.33 L513.73,286.62 L514.05,286.91 L514.38,287.20 L514.70,287.49 L515.03,287.78 L515.35,288.08 L515.68,288.37 L516.00,288.66 L516.33,288.95" stroke="#2cbf44" stroke-width="1.7" stroke-dasharray="3.2 3.06" stroke-dashoffset="-2.84"/>
<path d="M109.71,289.04 L110.03,288.62 L110.36,288.19 L110.68,287.77 L111.00,287.34 L111.33,286.91 L111.65,286.49 L111.98,286.06 L112.30,285.63 L112.63,285.20 L112.95,284.77 L113.28,284.34 L113.60,283.91 L113.93,283.48 L114.25,283.04 L114.57,282.61 L114.90,282.17 L115.22,281.74 L115.55,281.30 L115.87,280.86 L116.20,280.43 L116.52,279.99 L116.85,279.55 L117.17,279.11 L117.50,278.67 L117.82,278.22 L118.14,277.78 L118.47,277.34 L118.79,276.89 L119.12,276.45 L119.44,276.00 L119.77,275.55 L120.09,275.11 L120.42,274.66 L120.74,274.21 L121.06,273.76 L121.39,273.31 L121.71,272.85 L122.04,272.40 L122.36,271.95 L122.69,271.49 L123.01,271.04 L123.34,270.58 L123.66,270.12 L123.99,269.67 L124.31,269.21 L124.63,268.75 L124.96,268.29 L125.28,267.82 L125.61,267.36 L125.93,266.90 L126.26,266.44 L126.58,265.97 L126.91,265.50 L127.23,265.04 L127.56,264.57 L127.88,264.10 L128.20,263.63 L128.53,263.16 L128.85,262.69 L129.18,262.22 L129.50,261.74 L129.83,261.27 L130.15,260.79 L130.48,260.32 L130.80,259.84 L131.12,259.36 L131.45,258.89 L131.77,258.41 L132.10,257.92 L132.42,257.44 L132.75,256.96 L133.07,256.48 L133.40,255.99 L133.72,255.51 L134.05,255.02 L134.37,254.53 L134.69,254.05 L135.02,253.56 L135.34,253.07 L135.67,252.57 L135.99,252.08 L136.32,251.59 L136.64,251.09 L136.97,250.60 L137.29,250.10 L137.62,249.61 L137.94,249.11 L138.26,248.61 L138.59,248.11 L138.91,247.61 L139.24,247.11 L139.56,246.60 L139.89,246.10 L140.21,245.59 L140.54,245.09 L140.86,244.58 L141.18,244.07 L141.51,243.56 L141.83,243.05 L142.16,242.54 L142.48,242.03 L142.81,241.51 L143.13,241.00 L143.46,240.48 L143.78,239.96 L144.11,239.45 L144.43,238.93 L144.75,238.41 L145.08,237.89 L145.40,237.36 L145.73,236.84 L146.05,236.32 L146.38,235.79 L146.70,235.26 L147.03,234.74 L147.35,234.21 L147.68,233.68 L148.00,233.15 L148.32,232.61 L148.65,232.08 L148.97,231.55 L149.30,231.01 L149.62,230.47 L149.95,229.94 L150.27,229.40 L150.60,228.86 L150.92,228.31 L151.24,227.77 L151.57,227.23 L151.89,226.68 L152.22,226.14 L152.54,225.59 L152.87,225.04 L153.19,224.49 L153.52,223.94 L153.84,223.39 L154.17,222.84 L154.49,222.28 L154.81,221.73 L155.14,221.17 L155.46,220.61 L155.79,220.05 L156.11,219.49 L156.44,218.93 L156.76,218.37 L157.09,217.81 L157.41,217.24 L157.74,216.68 L158.06,216.11 L158.38,215.54 L158.71,214.97 L159.03,214.40 L159.36,213.83 L159.68,213.25 L160.01,212.68 L160.33,212.10 L160.66,211.52 L160.98,210.94 L161.30,210.36 L161.63,209.78 L161.95,209.20 L162.28,208.62 L162.60,208.03 L162.93,207.45 L163.25,206.86 L163.58,206.27 L163.90,205.68 L164.23,205.09 L164.55,204.50 L164.87,203.90 L165.20,203.31 L165.52,202.71 L165.85,202.11 L166.17,201.51 L166.50,200.91 L166.82,200.31 L167.15,199.71 L167.47,199.10 L167.80,198.50 L168.12,197.89 L168.44,197.28 L168.77,196.67 L169.09,196.06 L169.42,195.45 L169.74,194.84 L170.07,194.22 L170.39,193.60 L170.72,192.99 L171.04,192.37 L171.36,191.75 L171.69,191.13 L172.01,190.50 L172.34,189.88 L172.66,189.25 L172.99,188.63 L173.31,188.00 L173.64,187.37 L173.96,186.74 L174.29,186.11 L174.61,185.47 L174.93,184.84 L175.26,184.20 L175.58,183.57 L175.91,182.93 L176.23,182.29 L176.56,181.65 L176.88,181.00 L177.21,180.36 L177.53,179.71 L177.86,179.07 L178.18,178.42 L178.50,177.77 L178.83,177.12 L179.15,176.47 L179.48,175.82 L179.80,175.16 L180.13,174.51 L180.45,173.85 L180.78,173.19 L181.10,172.53 L181.42,171.87 L181.75,171.21 L182.07,170.55 L182.40,169.88 L182.72,169.22 L183.05,168.55 L183.37,167.88 L183.70,167.21 L184.02,166.54 L184.35,165.87 L184.67,165.20 L184.99,164.52 L185.32,163.85 L185.64,163.17 L185.97,162.49 L186.29,161.81 L186.62,161.13 L186.94,160.45 L187.27,159.77 L187.59,159.09 L187.92,158.40 L188.24,157.72 L188.56,157.03 L188.89,156.34 L189.21,155.66 L189.54,154.97 L189.86,154.28 L190.19,153.59 L190.51,152.89 L190.84,152.20 L191.16,151.51 L191.48,150.81 L191.81,150.12 L192.13,149.42 L192.46,148.72 L192.78,148.02 L193.11,147.32 L193.43,146.62 L193.76,145.92 L194.08,145.22 L194.41,144.52 L194.73,143.82 L195.05,143.11 L195.38,142.41 L195.70,141.71 L196.03,141.00 L196.35,140.30 L196.68,139.59 L197.00,138.88 L197.33,138.18 L197.65,137.47 L197.98,136.76 L198.30,136.06 L198.62,135.35 L198.95,134.64 L199.27,133.93 L199.60,133.22 L199.92,132.51 L200.25,131.81 L200.57,131.10 L200.90,130.39 L201.22,129.68 L201.54,128.97 L201.87,128.26 L202.19,127.56 L202.52,126.85 L202.84,126.14 L203.17,125.44 L203.49,124.73 L203.82,124.02 L204.14,123.32 L204.47,122.62 L204.79,121.91 L205.11,121.21 L205.44,120.51 L205.76,119.81 L206.09,119.11 L206.41,118.41 L206.74,117.71 L207.06,117.01 L207.39,116.32 L207.71,115.62 L208.04,114.93 L208.36,114.24 L208.68,113.55 L209.01,112.86 L209.33,112.17 L209.66,111.49 L209.98,110.81 L210.31,110.13 L210.63,109.45 L210.96,108.77 L211.28,108.10 L211.60,107.43 L211.93,106.76 L212.25,106.09 L212.58,105.42 L212.90,104.76 L213.23,104.10 L213.55,103.45 L213.88,102.79 L214.20,102.14 L214.53,101.50 L214.85,100.85 L215.17,100.21 L215.50,99.58 L215.82,98.94 L216.15,98.31 L216.47,97.69 L216.80,97.06 L217.12,96.45 L217.45,95.83 L217.77,95.22 L218.10,94.61 L218.42,94.01 L218.74,93.41 L219.07,92.82 L219.39,92.23 L219.72,91.65 L220.04,91.07 L220.37,90.50 L220.69,89.93 L221.02,89.36 L221.34,88.81 L221.66,88.25 L221.99,87.70 L222.31,87.16 L222.64,86.62 L222.96,86.09 L223.29,85.56 L223.61,85.04 L223.94,84.53 L224.26,84.02 L224.59,83.52 L224.91,83.02 L225.23,82.53 L225.56,82.05 L225.88,81.57 L226.21,81.09 L226.53,80.63 L226.86,80.17 L227.18,79.71 L227.51,79.27 L227.83,78.83 L228.16,78.39 L228.48,77.97 L228.80,77.55 L229.13,77.13 L229.45,76.72 L229.78,76.32 L230.10,75.93 L230.43,75.54 L230.75,75.16 L231.08,74.78 L231.40,74.42 L231.72,74.06 L232.05,73.70 L232.37,73.35 L232.70,73.01 L233.02,72.68 L233.35,72.35 L233.67,72.03 L234.00,71.71 L234.32,71.40 L234.65,71.10 L234.97,70.81 L235.29,70.52 L235.62,70.24 L235.94,69.96 L236.27,69.69 L236.59,69.43 L236.92,69.17 L237.24,68.92 L237.57,68.67 L237.89,68.43 L238.22,68.20 L238.54,67.97 L238.86,67.75 L239.19,67.53 L239.51,67.32 L239.84,67.11 L240.16,66.92 L240.49,66.72 L240.81,66.53 L241.14,66.35 L241.46,66.17 L241.78,66.00 L242.11,65.83 L242.43,65.66 L242.76,65.50 L243.08,65.35 L243.41,65.20 L243.73,65.05 L244.06,64.91 L244.38,64.78 L244.71,64.65 L245.03,64.52 L245.35,64.39 L245.68,64.28 L246.00,64.16 L246.33,64.05 L246.65,63.94 L246.98,63.83 L247.30,63.73 L247.63,63.64 L247.95,63.54 L248.28,63.45 L248.60,63.36 L248.92,63.28 L249.25,63.20 L249.57,63.12 L249.90,63.05 L250.22,62.97 L250.55,62.90 L250.87,62.84 L251.20,62.77 L251.52,62.71 L251.84,62.65 L252.17,62.59 L252.49,62.54 L252.82,62.49 L253.14,62.44 L253.47,62.39 L253.79,62.34 L254.12,62.30 L254.44,62.25 L254.77,62.21 L255.09,62.17 L255.41,62.14 L255.74,62.10 L256.06,62.07 L256.39,62.04 L256.71,62.00 L257.04,61.98 L257.36,61.95 L257.69,61.92 L258.01,61.90 L258.34,61.87 L258.66,61.85 L258.98,61.83 L259.31,61.81 L259.63,61.79 L259.96,61.77 L260.28,61.75 L260.61,61.73 L260.93,61.72 L261.26,61.70 L261.58,61.69 L261.90,61.67 L262.23,61.66 L262.55,61.65 L262.88,61.64 L263.20,61.63 L263.53,61.62 L263.85,61.61 L264.18,61.60 L264.50,61.59 L264.83,61.58 L265.15,61.57 L265.47,61.57 L265.80,61.56 L266.12,61.55 L266.45,61.55 L266.77,61.54 L267.10,61.54 L267.42,61.53 L267.75,61.53 L268.07,61.53 L268.40,61.52 L268.72,61.52 L269.04,61.52 L269.37,61.51 L269.69,61.51 L270.02,61.51 L270.34,61.50 L270.67,61.50 L270.99,61.50 L271.32,61.50 L271.64,61.50 L271.96,61.50 L272.29,61.49 L272.61,61.49 L272.94,61.49 L273.26,61.49 L273.59,61.49 L273.91,61.49 L274.24,61.49 L274.56,61.49 L274.89,61.49 L275.21,61.49 L275.53,61.49 L275.86,61.49 L276.18,61.48 L276.51,61.48 L276.83,61.48 L277.16,61.48 L277.48,61.48 L277.81,61.48 L278.13,61.48 L278.46,61.48 L278.78,61.48 L279.10,61.48 L279.43,61.48 L279.75,61.48 L280.08,61.48 L280.40,61.48 L280.73,61.48 L281.05,61.48 L281.38,61.48 L281.70,61.48 L282.02,61.48 L282.35,61.48 L282.67,61.48 L283.00,61.48 L283.32,61.48 L283.65,61.48 L283.97,61.48 L284.30,61.48 L284.62,61.48 L284.95,61.48 L285.27,61.48 L285.59,61.48 L285.92,61.48 L286.24,61.48 L286.57,61.48 L286.89,61.48 L287.22,61.48 L287.54,61.48 L287.87,61.48 L288.19,61.48 L288.52,61.48 L288.84,61.48 L289.16,61.48 L289.49,61.48 L289.81,61.48 L290.14,61.48 L290.46,61.48 L290.79,61.48 L291.11,61.48 L291.44,61.48 L291.76,61.48 L292.08,61.48 L292.41,61.48 L292.73,61.48 L293.06,61.48 L293.38,61.48 L293.71,61.48 L294.03,61.48 L294.36,61.48 L294.68,61.48 L295.01,61.48 L295.33,61.48 L295.65,61.48 L295.98,61.48 L296.30,61.48 L296.63,61.48 L296.95,61.48 L297.28,61.48 L297.60,61.48 L297.93,61.48 L298.25,61.48 L298.58,61.48 L298.90,61.48 L299.22,61.48 L299.55,61.48 L299.87,61.48 L300.20,61.48 L300.52,61.48 L300.85,61.48 L301.17,61.48 L301.50,61.48 L301.82,61.48 L302.14,61.48 L302.47,61.48 L302.79,61.48 L303.12,61.48 L303.44,61.48 L303.77,61.48 L304.09,61.48 L304.42,61.48 L304.74,61.49 L305.07,61.49 L305.39,61.49 L305.71,61.49 L306.04,61.49 L306.36,61.49 L306.69,61.49 L307.01,61.49 L307.34,61.49 L307.66,61.49 L307.99,61.49 L308.31,61.49 L308.64,61.50 L308.96,61.50 L309.28,61.50 L309.61,61.50 L309.93,61.50 L310.26,61.50 L310.58,61.51 L310.91,61.51 L311.23,61.51 L311.56,61.52 L311.88,61.52 L312.20,61.52 L312.53,61.53 L312.85,61.53 L313.18,61.53 L313.50,61.54 L313.83,61.54 L314.15,61.55 L314.48,61.55 L314.80,61.56 L315.13,61.57 L315.45,61.57 L315.77,61.58 L316.10,61.59 L316.42,61.60 L316.75,61.61 L317.07,61.62 L317.40,61.63 L317.72,61.64 L318.05,61.65 L318.37,61.66 L318.70,61.67 L319.02,61.69 L319.34,61.70 L319.67,61.72 L319.99,61.73 L320.32,61.75 L320.64,61.77 L320.97,61.79 L321.29,61.81 L321.62,61.83 L321.94,61.85 L322.26,61.87 L322.59,61.90 L322.91,61.92 L323.24,61.95 L323.56,61.98 L323.89,62.00 L324.21,62.04 L324.54,62.07 L324.86,62.10 L325.19,62.14 L325.51,62.17 L325.83,62.21 L326.16,62.25 L326.48,62.30 L326.81,62.34 L327.13,62.39 L327.46,62.44 L327.78,62.49 L328.11,62.54 L328.43,62.59 L328.76,62.65 L329.08,62.71 L329.40,62.77 L329.73,62.84 L330.05,62.90 L330.38,62.97 L330.70,63.05 L331.03,63.12 L331.35,63.20 L331.68,63.28 L332.00,63.36 L332.32,63.45 L332.65,63.54 L332.97,63.64 L333.30,63.73 L333.62,63.83 L333.95,63.94 L334.27,64.05 L334.60,64.16 L334.92,64.28 L335.25,64.39 L335.57,64.52 L335.89,64.65 L336.22,64.78 L336.54,64.91 L336.87,65.05 L337.19,65.20 L337.52,65.35 L337.84,65.50 L338.17,65.66 L338.49,65.83 L338.82,66.00 L339.14,66.17 L339.46,66.35 L339.79,66.53 L340.11,66.72 L340.44,66.92 L340.76,67.11 L341.09,67.32 L341.41,67.53 L341.74,67.75 L342.06,67.97 L342.38,68.20 L342.71,68.43 L343.03,68.67 L343.36,68.92 L343.68,69.17 L344.01,69.43 L344.33,69.69 L344.66,69.96 L344.98,70.24 L345.31,70.52 L345.63,70.81 L345.95,71.10 L346.28,71.40 L346.60,71.71 L346.93,72.03 L347.25,72.35 L347.58,72.68 L347.90,73.01 L348.23,73.35 L348.55,73.70 L348.88,74.06 L349.20,74.42 L349.52,74.78 L349.85,75.16 L350.17,75.54 L350.50,75.93 L350.82,76.32 L351.15,76.72 L351.47,77.13 L351.80,77.55 L352.12,77.97 L352.44,78.39 L352.77,78.83 L353.09,79.27 L353.42,79.71 L353.74,80.17 L354.07,80.63 L354.39,81.09 L354.72,81.57 L355.04,82.05 L355.37,82.53 L355.69,83.02 L356.01,83.52 L356.34,84.02 L356.66,84.53 L356.99,85.04 L357.31,85.56 L357.64,86.09 L357.96,86.62 L358.29,87.16 L358.61,87.70 L358.94,88.25 L359.26,88.81 L359.58,89.36 L359.91,89.93 L360.23,90.50 L360.56,91.07 L360.88,91.65 L361.21,92.23 L361.53,92.82 L361.86,93.41 L362.18,94.01 L362.50,94.61 L362.83,95.22 L363.15,95.83 L363.48,96.45 L363.80,97.06 L364.13,97.69 L364.45,98.31 L364.78,98.94 L365.10,99.58 L365.43,100.21 L365.75,100.85 L366.07,101.50 L366.40,102.14 L366.72,102.79 L367.05,103.45 L367.37,104.10 L367.70,104.76 L368.02,105.42 L368.35,106.09 L368.67,106.76 L369.00,107.43 L369.32,108.10 L369.64,108.77 L369.97,109.45 L370.29,110.13 L370.62,110.81 L370.94,111.49 L371.27,112.17 L371.59,112.86 L371.92,113.55 L372.24,114.24 L372.56,114.93 L372.89,115.62 L373.21,116.32 L373.54,117.01 L373.86,117.71 L374.19,118.41 L374.51,119.11 L374.84,119.81 L375.16,120.51 L375.49,121.21 L375.81,121.91 L376.13,122.62 L376.46,123.32 L376.78,124.02 L377.11,124.73 L377.43,125.44 L377.76,126.14 L378.08,126.85 L378.41,127.56 L378.73,128.26 L379.06,128.97 L379.38,129.68 L379.70,130.39 L380.03,131.10 L380.35,131.81 L380.68,132.51 L381.00,133.22 L381.33,133.93 L381.65,134.64 L381.98,135.35 L382.30,136.06 L382.62,136.76 L382.95,137.47 L383.27,138.18 L383.60,138.88 L383.92,139.59 L384.25,140.30 L384.57,141.00 L384.90,141.71 L385.22,142.41 L385.55,143.11 L385.87,143.82 L386.19,144.52 L386.52,145.22 L386.84,145.92 L387.17,146.62 L387.49,147.32 L387.82,148.02 L388.14,148.72 L388.47,149.42 L388.79,150.12 L389.12,150.81 L389.44,151.51 L389.76,152.20 L390.09,152.89 L390.41,153.59 L390.74,154.28 L391.06,154.97 L391.39,155.66 L391.71,156.34 L392.04,157.03 L392.36,157.72 L392.68,158.40 L393.01,159.09 L393.33,159.77 L393.66,160.45 L393.98,161.13 L394.31,161.81 L394.63,162.49 L394.96,163.17 L395.28,163.85 L395.61,164.52 L395.93,165.20 L396.25,165.87 L396.58,166.54 L396.90,167.21 L397.23,167.88 L397.55,168.55 L397.88,169.22 L398.20,169.88 L398.53,170.55 L398.85,171.21 L399.18,171.87 L399.50,172.53 L399.82,173.19 L400.15,173.85 L400.47,174.51 L400.80,175.16 L401.12,175.82 L401.45,176.47 L401.77,177.12 L402.10,177.77 L402.42,178.42 L402.74,179.07 L403.07,179.71 L403.39,180.36 L403.72,181.00 L404.04,181.65 L404.37,182.29 L404.69,182.93 L405.02,183.57 L405.34,184.20 L405.67,184.84 L405.99,185.47 L406.31,186.11 L406.64,186.74 L406.96,187.37 L407.29,188.00 L407.61,188.63 L407.94,189.25 L408.26,189.88 L408.59,190.50 L408.91,191.13 L409.24,191.75 L409.56,192.37 L409.88,192.99 L410.21,193.60 L410.53,194.22 L410.86,194.84 L411.18,195.45 L411.51,196.06 L411.83,196.67 L412.16,197.28 L412.48,197.89 L412.80,198.50 L413.13,199.10 L413.45,199.71 L413.78,200.31 L414.10,200.91 L414.43,201.51 L414.75,202.11 L415.08,202.71 L415.40,203.31 L415.73,203.90 L416.05,204.50 L416.37,205.09 L416.70,205.68 L417.02,206.27 L417.35,206.86 L417.67,207.45 L418.00,208.03 L418.32,208.62 L418.65,209.20 L418.97,209.78 L419.30,210.36 L419.62,210.94 L419.94,211.52 L420.27,212.10 L420.59,212.68 L420.92,213.25 L421.24,213.83 L421.57,214.40 L421.89,214.97 L422.22,215.54 L422.54,216.11 L422.86,216.68 L423.19,217.24 L423.51,217.81 L423.84,218.37 L424.16,218.93 L424.49,219.49 L424.81,220.05 L425.14,220.61 L425.46,221.17 L425.79,221.73 L426.11,222.28 L426.43,222.84 L426.76,223.39 L427.08,223.94 L427.41,224.49 L427.73,225.04 L428.06,225.59 L428.38,226.14 L428.71,226.68 L429.03,227.23 L429.36,227.77 L429.68,228.31 L430.00,228.86 L430.33,229.40 L430.65,229.94 L430.98,230.47 L431.30,231.01 L431.63,231.55 L431.95,232.08 L432.28,232.61 L432.60,233.15 L432.92,233.68 L433.25,234.21 L433.57,234.74 L433.90,235.26 L434.22,235.79 L434.55,236.32 L434.87,236.84 L435.20,237.36 L435.52,237.89 L435.85,238.41 L436.17,238.93 L436.49,239.45 L436.82,239.96 L437.14,240.48 L437.47,241.00 L437.79,241.51 L438.12,242.03 L438.44,242.54 L438.77,243.05 L439.09,243.56 L439.42,244.07 L439.74,244.58 L440.06,245.09 L440.39,245.59 L440.71,246.10 L441.04,246.60 L441.36,247.11 L441.69,247.61 L442.01,248.11 L442.34,248.61 L442.66,249.11 L442.98,249.61 L443.31,250.10 L443.63,250.60 L443.96,251.09 L444.28,251.59 L444.61,252.08 L444.93,252.57 L445.26,253.07 L445.58,253.56 L445.91,254.05 L446.23,254.53 L446.55,255.02 L446.88,255.51 L447.20,255.99 L447.53,256.48 L447.85,256.96 L448.18,257.44 L448.50,257.92 L448.83,258.41 L449.15,258.89 L449.48,259.36 L449.80,259.84 L450.12,260.32 L450.45,260.79 L450.77,261.27 L451.10,261.74 L451.42,262.22 L451.75,262.69 L452.07,263.16 L452.40,263.63 L452.72,264.10 L453.04,264.57 L453.37,265.04 L453.69,265.50 L454.02,265.97 L454.34,266.44 L454.67,266.90 L454.99,267.36 L455.32,267.82 L455.64,268.29 L455.97,268.75 L456.29,269.21 L456.61,269.67 L456.94,270.12 L457.26,270.58 L457.59,271.04 L457.91,271.49 L458.24,271.95 L458.56,272.40 L458.89,272.85 L459.21,273.31 L459.54,273.76 L459.86,274.21 L460.18,274.66 L460.51,275.11 L460.83,275.55 L461.16,276.00 L461.48,276.45 L461.81,276.89 L462.13,277.34 L462.46,277.78 L462.78,278.22 L463.10,278.67 L463.43,279.11 L463.75,279.55 L464.08,279.99 L464.40,280.43 L464.73,280.86 L465.05,281.30 L465.38,281.74 L465.70,282.17 L466.03,282.61 L466.35,283.04 L466.67,283.48 L467.00,283.91 L467.32,284.34 L467.65,284.77 L467.97,285.20 L468.30,285.63 L468.62,286.06 L468.95,286.49 L469.27,286.91 L469.60,287.34 L469.92,287.77 L470.24,288.19 L470.57,288.62 L470.89,289.04" stroke="#d81c30" stroke-width="1.6" stroke-dasharray="3.45 2.95 0.9 3.078" stroke-dashoffset="-1.475"/>
<path d="M152.87,289.13 L153.19,287.93 L153.52,286.73 L153.84,285.54 L154.17,284.35 L154.49,283.16 L154.81,281.97 L155.14,280.79 L155.46,279.61 L155.79,278.44 L156.11,277.26 L156.44,276.09 L156.76,274.92 L157.09,273.76 L157.41,272.59 L157.74,271.44 L158.06,270.28 L158.38,269.12 L158.71,267.97 L159.03,266.82 L159.36,265.68 L159.68,264.54 L160.01,263.40 L160.33,262.26 L160.66,261.13 L160.98,259.99 L161.30,258.87 L161.63,257.74 L161.95,256.62 L162.28,255.50 L162.60,254.38 L162.93,253.27 L163.25,252.15 L163.58,251.05 L163.90,249.94 L164.23,248.84 L164.55,247.74 L164.87,246.64 L165.20,245.55 L165.52,244.45 L165.85,243.36 L166.17,242.28 L166.50,241.20 L166.82,240.12 L167.15,239.04 L167.47,237.96 L167.80,236.89 L168.12,235.82 L168.44,234.76 L168.77,233.69 L169.09,232.63 L169.42,231.58 L169.74,230.52 L170.07,229.47 L170.39,228.42 L170.72,227.37 L171.04,226.33 L171.36,225.29 L171.69,224.25 L172.01,223.22 L172.34,222.18 L172.66,221.16 L172.99,220.13 L173.31,219.11 L173.64,218.08 L173.96,217.07 L174.29,216.05 L174.61,215.04 L174.93,214.03 L175.26,213.02 L175.58,212.02 L175.91,211.02 L176.23,210.02 L176.56,209.03 L176.88,208.03 L177.21,207.04 L177.53,206.06 L177.86,205.07 L178.18,204.09 L178.50,203.11 L178.83,202.14 L179.15,201.17 L179.48,200.20 L179.80,199.23 L180.13,198.27 L180.45,197.30 L180.78,196.35 L181.10,195.39 L181.42,194.44 L181.75,193.49 L182.07,192.54 L182.40,191.60 L182.72,190.66 L183.05,189.72 L183.37,188.78 L183.70,187.85 L184.02,186.92 L184.35,185.99 L184.67,185.07 L184.99,184.15 L185.32,183.23 L185.64,182.31 L185.97,181.40 L186.29,180.49 L186.62,179.58 L186.94,178.68 L187.27,177.77 L187.59,176.88 L187.92,175.98 L188.24,175.09 L188.56,174.20 L188.89,173.31 L189.21,172.42 L189.54,171.54 L189.86,170.66 L190.19,169.79 L190.51,168.91 L190.84,168.04 L191.16,167.18 L191.48,166.31 L191.81,165.45 L192.13,164.59 L192.46,163.73 L192.78,162.88 L193.11,162.03 L193.43,161.18 L193.76,160.34 L194.08,159.49 L194.41,158.66 L194.73,157.82 L195.05,156.98 L195.38,156.15 L195.70,155.33 L196.03,154.50 L196.35,153.68 L196.68,152.86 L197.00,152.04 L197.33,151.23 L197.65,150.42 L197.98,149.61 L198.30,148.80 L198.62,148.00 L198.95,147.20 L199.27,146.41 L199.60,145.61 L199.92,144.82 L200.25,144.03 L200.57,143.25 L200.90,142.46 L201.22,141.69 L201.54,140.91 L201.87,140.13 L202.19,139.36 L202.52,138.59 L202.84,137.83 L203.17,137.07 L203.49,136.31 L203.82,135.55 L204.14,134.80 L204.47,134.04 L204.79,133.30 L205.11,132.55 L205.44,131.81 L205.76,131.07 L206.09,130.33 L206.41,129.60 L206.74,128.86 L207.06,128.13 L207.39,127.41 L207.71,126.69 L208.04,125.97 L208.36,125.25 L208.68,124.53 L209.01,123.82 L209.33,123.11 L209.66,122.41 L209.98,121.70 L210.31,121.00 L210.63,120.31 L210.96,119.61 L211.28,118.92 L211.60,118.23 L211.93,117.54 L212.25,116.86 L212.58,116.18 L212.90,115.50 L213.23,114.83 L213.55,114.16 L213.88,113.49 L214.20,112.82 L214.53,112.16 L214.85,111.50 L215.17,110.84 L215.50,110.18 L215.82,109.53 L216.15,108.88 L216.47,108.24 L216.80,107.59 L217.12,106.95 L217.45,106.31 L217.77,105.68 L218.10,105.05 L218.42,104.42 L218.74,103.79 L219.07,103.17 L219.39,102.55 L219.72,101.93 L220.04,101.31 L220.37,100.70 L220.69,100.09 L221.02,99.48 L221.34,98.88 L221.66,98.28 L221.99,97.68 L222.31,97.08 L222.64,96.49 L222.96,95.90 L223.29,95.32 L223.61,94.73 L223.94,94.15 L224.26,93.57 L224.59,93.00 L224.91,92.42 L225.23,91.85 L225.56,91.29 L225.88,90.72 L226.21,90.16 L226.53,89.60 L226.86,89.05 L227.18,88.49 L227.51,87.94 L227.83,87.40 L228.16,86.85 L228.48,86.31 L228.80,85.77 L229.13,85.24 L229.45,84.70 L229.78,84.17 L230.10,83.65 L230.43,83.12 L230.75,82.60 L231.08,82.08 L231.40,81.56 L231.72,81.05 L232.05,80.54 L232.37,80.03 L232.70,79.53 L233.02,79.03 L233.35,78.53 L233.67,78.03 L234.00,77.54 L234.32,77.05 L234.65,76.56 L234.97,76.07 L235.29,75.59 L235.62,75.11 L235.94,74.64 L236.27,74.16 L236.59,73.69 L236.92,73.23 L237.24,72.76 L237.57,72.30 L237.89,71.84 L238.22,71.38 L238.54,70.93 L238.86,70.48 L239.19,70.03 L239.51,69.58 L239.84,69.14 L240.16,68.70 L240.49,68.27 L240.81,67.83 L241.14,67.40 L241.46,66.97 L241.78,66.55 L242.11,66.13 L242.43,65.71 L242.76,65.29 L243.08,64.87 L243.41,64.46 L243.73,64.06 L244.06,63.65 L244.38,63.25 L244.71,62.85 L245.03,62.45 L245.35,62.06 L245.68,61.67 L246.00,61.28 L246.33,60.89 L246.65,60.51 L246.98,60.13 L247.30,59.75 L247.63,59.38 L247.95,59.01 L248.28,58.64 L248.60,58.27 L248.92,57.91 L249.25,57.55 L249.57,57.19 L249.90,56.84 L250.22,56.48 L250.55,56.14 L250.87,55.79 L251.20,55.45 L251.52,55.11 L251.84,54.77 L252.17,54.43 L252.49,54.10 L252.82,53.77 L253.14,53.45 L253.47,53.13 L253.79,52.80 L254.12,52.49 L254.44,52.17 L254.77,51.86 L255.09,51.55 L255.41,51.25 L255.74,50.94 L256.06,50.64 L256.39,50.34 L256.71,50.05 L257.04,49.76 L257.36,49.47 L257.69,49.18 L258.01,48.90 L258.34,48.62 L258.66,48.34 L258.98,48.06 L259.31,47.79 L259.63,47.52 L259.96,47.26 L260.28,46.99 L260.61,46.73 L260.93,46.47 L261.26,46.22 L261.58,45.97 L261.90,45.72 L262.23,45.47 L262.55,45.23 L262.88,44.98 L263.20,44.75 L263.53,44.51 L263.85,44.28 L264.18,44.05 L264.50,43.82 L264.83,43.60 L265.15,43.38 L265.47,43.16 L265.80,42.94 L266.12,42.73 L266.45,42.52 L266.77,42.31 L267.10,42.11 L267.42,41.91 L267.75,41.71 L268.07,41.51 L268.40,41.32 L268.72,41.13 L269.04,40.94 L269.37,40.76 L269.69,40.58 L270.02,40.40 L270.34,40.22 L270.67,40.05 L270.99,39.88 L271.32,39.71 L271.64,39.55 L271.96,39.39 L272.29,39.23 L272.61,39.07 L272.94,38.92 L273.26,38.77 L273.59,38.62 L273.91,38.48 L274.24,38.34 L274.56,38.20 L274.89,38.06 L275.21,37.93 L275.53,37.80 L275.86,37.67 L276.18,37.54 L276.51,37.42 L276.83,37.30 L277.16,37.19 L277.48,37.07 L277.81,36.96 L278.13,36.86 L278.46,36.75 L278.78,36.65 L279.10,36.55 L279.43,36.45 L279.75,36.36 L280.08,36.27 L280.40,36.18 L280.73,36.10 L281.05,36.01 L281.38,35.93 L281.70,35.86 L282.02,35.78 L282.35,35.71 L282.67,35.64 L283.00,35.58 L283.32,35.52 L283.65,35.46 L283.97,35.40 L284.30,35.35 L284.62,35.30 L284.95,35.25 L285.27,35.20 L285.59,35.16 L285.92,35.12 L286.24,35.08 L286.57,35.05 L286.89,35.02 L287.22,34.99 L287.54,34.96 L287.87,34.94 L288.19,34.92 L288.52,34.90 L288.84,34.89 L289.16,34.88 L289.49,34.87 L289.81,34.87 L290.14,34.86 L290.46,34.86 L290.79,34.87 L291.11,34.87 L291.44,34.88 L291.76,34.89 L292.08,34.90 L292.41,34.92 L292.73,34.94 L293.06,34.96 L293.38,34.99 L293.71,35.02 L294.03,35.05 L294.36,35.08 L294.68,35.12 L295.01,35.16 L295.33,35.20 L295.65,35.25 L295.98,35.30 L296.30,35.35 L296.63,35.40 L296.95,35.46 L297.28,35.52 L297.60,35.58 L297.93,35.64 L298.25,35.71 L298.58,35.78 L298.90,35.86 L299.22,35.93 L299.55,36.01 L299.87,36.10 L300.20,36.18 L300.52,36.27 L300.85,36.36 L301.17,36.45 L301.50,36.55 L301.82,36.65 L302.14,36.75 L302.47,36.86 L302.79,36.96 L303.12,37.07 L303.44,37.19 L303.77,37.30 L304.09,37.42 L304.42,37.54 L304.74,37.67 L305.07,37.80 L305.39,37.93 L305.71,38.06 L306.04,38.20 L306.36,38.34 L306.69,38.48 L307.01,38.62 L307.34,38.77 L307.66,38.92 L307.99,39.07 L308.31,39.23 L308.64,39.39 L308.96,39.55 L309.28,39.71 L309.61,39.88 L309.93,40.05 L310.26,40.22 L310.58,40.40 L310.91,40.58 L311.23,40.76 L311.56,40.94 L311.88,41.13 L312.20,41.32 L312.53,41.51 L312.85,41.71 L313.18,41.91 L313.50,42.11 L313.83,42.31 L314.15,42.52 L314.48,42.73 L314.80,42.94 L315.13,43.16 L315.45,43.38 L315.77,43.60 L316.10,43.82 L316.42,44.05 L316.75,44.28 L317.07,44.51 L317.40,44.75 L317.72,44.98 L318.05,45.23 L318.37,45.47 L318.70,45.72 L319.02,45.97 L319.34,46.22 L319.67,46.47 L319.99,46.73 L320.32,46.99 L320.64,47.26 L320.97,47.52 L321.29,47.79 L321.62,48.06 L321.94,48.34 L322.26,48.62 L322.59,48.90 L322.91,49.18 L323.24,49.47 L323.56,49.76 L323.89,50.05 L324.21,50.34 L324.54,50.64 L324.86,50.94 L325.19,51.25 L325.51,51.55 L325.83,51.86 L326.16,52.17 L326.48,52.49 L326.81,52.80 L327.13,53.13 L327.46,53.45 L327.78,53.77 L328.11,54.10 L328.43,54.43 L328.76,54.77 L329.08,55.11 L329.40,55.45 L329.73,55.79 L330.05,56.14 L330.38,56.48 L330.70,56.84 L331.03,57.19 L331.35,57.55 L331.68,57.91 L332.00,58.27 L332.32,58.64 L332.65,59.01 L332.97,59.38 L333.30,59.75 L333.62,60.13 L333.95,60.51 L334.27,60.89 L334.60,61.28 L334.92,61.67 L335.25,62.06 L335.57,62.45 L335.89,62.85 L336.22,63.25 L336.54,63.65 L336.87,64.06 L337.19,64.46 L337.52,64.87 L337.84,65.29 L338.17,65.71 L338.49,66.13 L338.82,66.55 L339.14,66.97 L339.46,67.40 L339.79,67.83 L340.11,68.27 L340.44,68.70 L340.76,69.14 L341.09,69.58 L341.41,70.03 L341.74,70.48 L342.06,70.93 L342.38,71.38 L342.71,71.84 L343.03,72.30 L343.36,72.76 L343.68,73.23 L344.01,73.69 L344.33,74.16 L344.66,74.64 L344.98,75.11 L345.31,75.59 L345.63,76.07 L345.95,76.56 L346.28,77.05 L346.60,77.54 L346.93,78.03 L347.25,78.53 L347.58,79.03 L347.90,79.53 L348.23,80.03 L348.55,80.54 L348.88,81.05 L349.20,81.56 L349.52,82.08 L349.85,82.60 L350.17,83.12 L350.50,83.65 L350.82,84.17 L351.15,84.70 L351.47,85.24 L351.80,85.77 L352.12,86.31 L352.44,86.85 L352.77,87.40 L353.09,87.94 L353.42,88.49 L353.74,89.05 L354.07,89.60 L354.39,90.16 L354.72,90.72 L355.04,91.29 L355.37,91.85 L355.69,92.42 L356.01,93.00 L356.34,93.57 L356.66,94.15 L356.99,94.73 L357.31,95.32 L357.64,95.90 L357.96,96.49 L358.29,97.08 L358.61,97.68 L358.94,98.28 L359.26,98.88 L359.58,99.48 L359.91,100.09 L360.23,100.70 L360.56,101.31 L360.88,101.93 L361.21,102.55 L361.53,103.17 L361.86,103.79 L362.18,104.42 L362.50,105.05 L362.83,105.68 L363.15,106.31 L363.48,106.95 L363.80,107.59 L364.13,108.24 L364.45,108.88 L364.78,109.53 L365.10,110.18 L365.43,110.84 L365.75,111.50 L366.07,112.16 L366.40,112.82 L366.72,113.49 L367.05,114.16 L367.37,114.83 L367.70,115.50 L368.02,116.18 L368.35,116.86 L368.67,117.54 L369.00,118.23 L369.32,118.92 L369.64,119.61 L369.97,120.31 L370.29,121.00 L370.62,121.70 L370.94,122.41 L371.27,123.11 L371.59,123.82 L371.92,124.53 L372.24,125.25 L372.56,125.97 L372.89,126.69 L373.21,127.41 L373.54,128.13 L373.86,128.86 L374.19,129.60 L374.51,130.33 L374.84,131.07 L375.16,131.81 L375.49,132.55 L375.81,133.30 L376.13,134.04 L376.46,134.80 L376.78,135.55 L377.11,136.31 L377.43,137.07 L377.76,137.83 L378.08,138.59 L378.41,139.36 L378.73,140.13 L379.06,140.91 L379.38,141.69 L379.70,142.46 L380.03,143.25 L380.35,144.03 L380.68,144.82 L381.00,145.61 L381.33,146.41 L381.65,147.20 L381.98,148.00 L382.30,148.80 L382.62,149.61 L382.95,150.42 L383.27,151.23 L383.60,152.04 L383.92,152.86 L384.25,153.68 L384.57,154.50 L384.90,155.33 L385.22,156.15 L385.55,156.98 L385.87,157.82 L386.19,158.66 L386.52,159.49 L386.84,160.34 L387.17,161.18 L387.49,162.03 L387.82,162.88 L388.14,163.73 L388.47,164.59 L388.79,165.45 L389.12,166.31 L389.44,167.18 L389.76,168.04 L390.09,168.91 L390.41,169.79 L390.74,170.66 L391.06,171.54 L391.39,172.42 L391.71,173.31 L392.04,174.20 L392.36,175.09 L392.68,175.98 L393.01,176.88 L393.33,177.77 L393.66,178.68 L393.98,179.58 L394.31,180.49 L394.63,181.40 L394.96,182.31 L395.28,183.23 L395.61,184.15 L395.93,185.07 L396.25,185.99 L396.58,186.92 L396.90,187.85 L397.23,188.78 L397.55,189.72 L397.88,190.66 L398.20,191.60 L398.53,192.54 L398.85,193.49 L399.18,194.44 L399.50,195.39 L399.82,196.35 L400.15,197.30 L400.47,198.27 L400.80,199.23 L401.12,200.20 L401.45,201.17 L401.77,202.14 L402.10,203.11 L402.42,204.09 L402.74,205.07 L403.07,206.06 L403.39,207.04 L403.72,208.03 L404.04,209.03 L404.37,210.02 L404.69,211.02 L405.02,212.02 L405.34,213.02 L405.67,214.03 L405.99,215.04 L406.31,216.05 L406.64,217.07 L406.96,218.08 L407.29,219.11 L407.61,220.13 L407.94,221.16 L408.26,222.18 L408.59,223.22 L408.91,224.25 L409.24,225.29 L409.56,226.33 L409.88,227.37 L410.21,228.42 L410.53,229.47 L410.86,230.52 L411.18,231.58 L411.51,232.63 L411.83,233.69 L412.16,234.76 L412.48,235.82 L412.80,236.89 L413.13,237.96 L413.45,239.04 L413.78,240.12 L414.10,241.20 L414.43,242.28 L414.75,243.36 L415.08,244.45 L415.40,245.55 L415.73,246.64 L416.05,247.74 L416.37,248.84 L416.70,249.94 L417.02,251.05 L417.35,252.15 L417.67,253.27 L418.00,254.38 L418.32,255.50 L418.65,256.62 L418.97,257.74 L419.30,258.87 L419.62,259.99 L419.94,261.13 L420.27,262.26 L420.59,263.40 L420.92,264.54 L421.24,265.68 L421.57,266.82 L421.89,267.97 L422.22,269.12 L422.54,270.28 L422.86,271.44 L423.19,272.59 L423.51,273.76 L423.84,274.92 L424.16,276.09 L424.49,277.26 L424.81,278.44 L425.14,279.61 L425.46,280.79 L425.79,281.97 L426.11,283.16 L426.43,284.35 L426.76,285.54 L427.08,286.73 L427.41,287.93 L427.73,289.13" stroke="#9a6a42" stroke-width="1.3"/>
</g>
<path d="M79.51,283.20V280.90M79.51,1.90V4.20 M95.72,283.20V279.40M95.72,1.90V5.70 M111.94,283.20V280.90M111.94,1.90V4.20 M128.15,283.20V280.90M128.15,1.90V4.20 M144.37,283.20V280.90M144.37,1.90V4.20 M160.58,283.20V279.40M160.58,1.90V5.70 M176.80,283.20V280.90M176.80,1.90V4.20 M193.01,283.20V280.90M193.01,1.90V4.20 M209.23,283.20V280.90M209.23,1.90V4.20 M225.44,283.20V279.40M225.44,1.90V5.70 M241.66,283.20V280.90M241.66,1.90V4.20 M257.87,283.20V280.90M257.87,1.90V4.20 M274.09,283.20V280.90M274.09,1.90V4.20 M290.30,283.20V279.40M290.30,1.90V5.70 M306.51,283.20V280.90M306.51,1.90V4.20 M322.73,283.20V280.90M322.73,1.90V4.20 M338.94,283.20V280.90M338.94,1.90V4.20 M355.16,283.20V279.40M355.16,1.90V5.70 M371.38,283.20V280.90M371.38,1.90V4.20 M387.59,283.20V280.90M387.59,1.90V4.20 M403.81,283.20V280.90M403.81,1.90V4.20 M420.02,283.20V279.40M420.02,1.90V5.70 M436.24,283.20V280.90M436.24,1.90V4.20 M452.45,283.20V280.90M452.45,1.90V4.20 M468.67,283.20V280.90M468.67,1.90V4.20 M484.88,283.20V279.40M484.88,1.90V5.70 M501.10,283.20V280.90M501.10,1.90V4.20 M62.55,263.17H64.65M517.60,263.17H515.50 M62.55,251.69H64.65M517.60,251.69H515.50 M62.55,243.55H64.65M517.60,243.55H515.50 M62.55,237.23H64.65M517.60,237.23H515.50 M62.55,232.06H64.65M517.60,232.06H515.50 M62.55,227.70H64.65M517.60,227.70H515.50 M62.55,223.92H64.65M517.60,223.92H515.50 M62.55,220.58H64.65M517.60,220.58H515.50 M62.55,217.60H66.35M517.60,217.60H513.80 M62.55,197.97H64.65M517.60,197.97H515.50 M62.55,186.49H64.65M517.60,186.49H515.50 M62.55,178.35H64.65M517.60,178.35H515.50 M62.55,172.03H64.65M517.60,172.03H515.50 M62.55,166.86H64.65M517.60,166.86H515.50 M62.55,162.50H64.65M517.60,162.50H515.50 M62.55,158.72H64.65M517.60,158.72H515.50 M62.55,155.38H64.65M517.60,155.38H515.50 M62.55,152.40H66.35M517.60,152.40H513.80 M62.55,132.77H64.65M517.60,132.77H515.50 M62.55,121.29H64.65M517.60,121.29H515.50 M62.55,113.15H64.65M517.60,113.15H515.50 M62.55,106.83H64.65M517.60,106.83H515.50 M62.55,101.66H64.65M517.60,101.66H515.50 M62.55,97.30H64.65M517.60,97.30H515.50 M62.55,93.52H64.65M517.60,93.52H515.50 M62.55,90.18H64.65M517.60,90.18H515.50 M62.55,87.20H66.35M517.60,87.20H513.80 M62.55,67.57H64.65M517.60,67.57H515.50 M62.55,56.09H64.65M517.60,56.09H515.50 M62.55,47.95H64.65M517.60,47.95H515.50 M62.55,41.63H64.65M517.60,41.63H515.50 M62.55,36.46H64.65M517.60,36.46H515.50 M62.55,32.10H64.65M517.60,32.10H515.50 M62.55,28.32H64.65M517.60,28.32H515.50 M62.55,24.98H64.65M517.60,24.98H515.50 M62.55,22.00H66.35M517.60,22.00H513.80" stroke="#000" stroke-width="1.05" fill="none"/>
<rect x="62.55" y="1.9" width="455.05" height="281.3" fill="none" stroke="#000" stroke-width="1.3"/>
<text transform="translate(58.00,27.75) scale(0.93,1)" font-size="16.4" text-anchor="end" >0.1</text>
<text transform="translate(58.00,92.95) scale(0.93,1)" font-size="16.4" text-anchor="end" >0.01</text>
<text transform="translate(58.00,158.15) scale(0.93,1)" font-size="16.4" text-anchor="end" >0.001</text>
<text transform="translate(47.00,223.10) scale(0.93,1)" font-size="16.4" text-anchor="end" >10</text>
<text transform="translate(47.20,218.95) scale(1,1)" font-size="13" text-anchor="start" stroke="#000" stroke-width="0.3">−</text>
<text transform="translate(53.90,216.60) scale(0.95,1)" font-size="9.8" text-anchor="start" >4</text>
<text transform="translate(47.00,288.30) scale(0.93,1)" font-size="16.4" text-anchor="end" >10</text>
<text transform="translate(47.20,284.15) scale(1,1)" font-size="13" text-anchor="start" stroke="#000" stroke-width="0.3">−</text>
<text transform="translate(53.90,281.80) scale(0.95,1)" font-size="9.8" text-anchor="start" >5</text>
<text transform="translate(96.22,300.30) scale(0.93,1)" font-size="16.4" text-anchor="middle" ><tspan font-size="19" dy="1.8" stroke="#000" stroke-width="0.35">−</tspan><tspan dy="-1.8" dx="1.0">6</tspan></text>
<text transform="translate(161.08,300.30) scale(0.93,1)" font-size="16.4" text-anchor="middle" ><tspan font-size="19" dy="1.8" stroke="#000" stroke-width="0.35">−</tspan><tspan dy="-1.8" dx="1.0">4</tspan></text>
<text transform="translate(225.94,300.30) scale(0.93,1)" font-size="16.4" text-anchor="middle" ><tspan font-size="19" dy="1.8" stroke="#000" stroke-width="0.35">−</tspan><tspan dy="-1.8" dx="1.0">2</tspan></text>
<text transform="translate(290.30,300.30) scale(0.93,1)" font-size="16.4" text-anchor="middle" >0</text>
<text transform="translate(355.16,300.30) scale(0.93,1)" font-size="16.4" text-anchor="middle" >2</text>
<text transform="translate(420.02,300.30) scale(0.93,1)" font-size="16.4" text-anchor="middle" >4</text>
<text transform="translate(484.88,300.30) scale(0.93,1)" font-size="16.4" text-anchor="middle" >6</text>
<text x="2.0" y="148.3" font-size="15" letter-spacing="0.45">f(v)</text>
<text x="290.3" y="321.6" font-size="20.5" text-anchor="middle">v<tspan dy="2.2">/</tspan><tspan dy="-2.2" font-style="italic">v</tspan><tspan font-size="12.5" dy="2.6">th</tspan></text>
<path d="M206.4,203.0H311.5" stroke="#b98d5f" stroke-width="2.2" fill="none" />
<text x="324.8" y="205.8" font-size="9.8" fill="#9a7048">Maxwellian</text>
<path d="M207.9,220.7H311.5" stroke="#5e4a66" stroke-width="1.5" fill="none" stroke-dasharray="0 4.0" stroke-linecap="round"/>
<text x="324.8" y="223.5" font-size="9.8" fill="#74407f">Cairns(Λ=0.2)</text>
<path d="M208.1,237.9H311.5" stroke="#2cbf44" stroke-width="1.7" fill="none" stroke-dasharray="3.2 3.0"/>
<text x="324.8" y="240.7" font-size="9.8" fill="#3ccc3c">Kappa(κ=3)</text>
<path d="M207.2,255.4H311.5" stroke="#d81c30" stroke-width="1.6" fill="none" stroke-dasharray="0.9 3.0 3.4 3.0"/>
<text x="324.8" y="258.2" font-size="9.8" fill="#e02a2a">(r,q)r=2;q=1.39</text>
</svg></body></html>
